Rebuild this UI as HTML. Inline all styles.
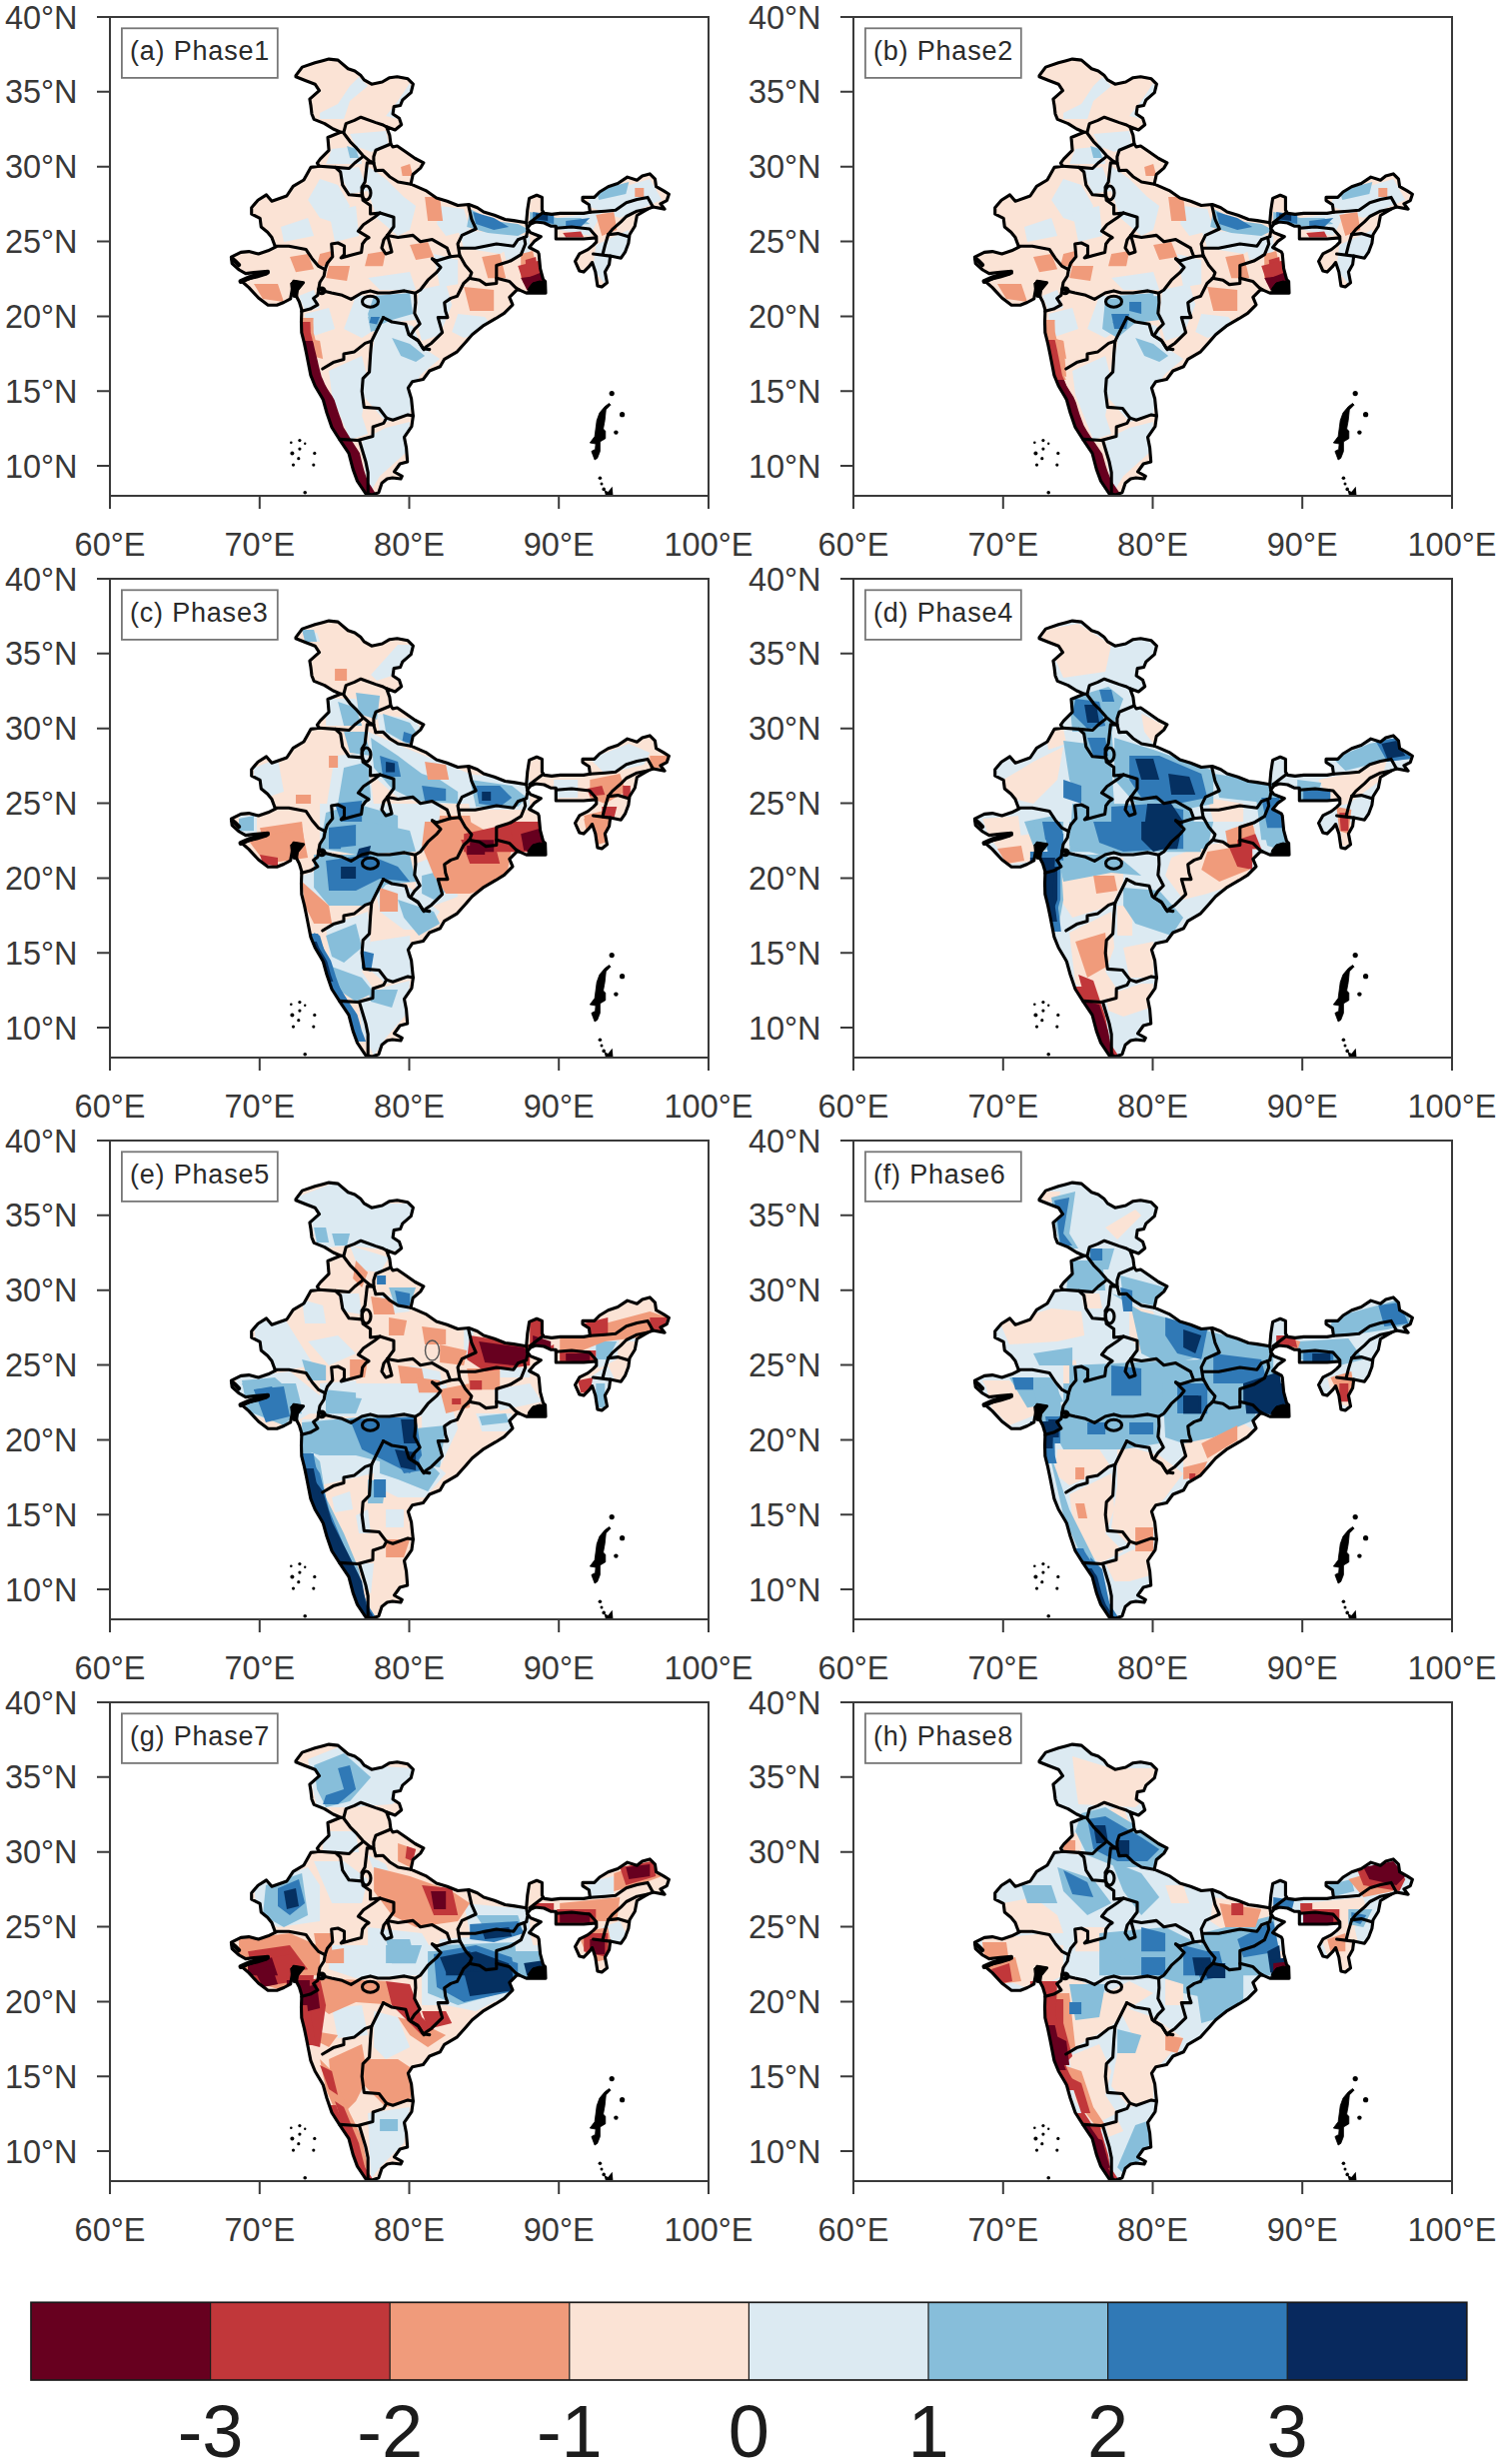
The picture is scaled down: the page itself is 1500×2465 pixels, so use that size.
<!DOCTYPE html><html><head><meta charset="utf-8"><style>html,body{margin:0;padding:0;background:#fff;width:1500px;height:2465px;overflow:hidden}svg{position:absolute;left:0;top:0}text{font-family:"Liberation Sans",sans-serif}</style></head><body>
<svg width="1500" height="2465" viewBox="0 0 1500 2465">
<defs>
<path id="india" d="M296.0,75.6 L302.4,67.1 L315.2,62.8 L322.0,61.0 L329.1,59.1 L338.2,60.1 L348.3,68.7 L355.0,71.0 L361.1,75.6 L364.3,79.9 L371.8,84.2 L382.5,82.0 L389.9,77.7 L397.4,76.7 L408.1,78.8 L413.4,84.2 L411.3,92.7 L402.7,100.2 L400.6,105.5 L394.2,106.6 L393.1,114.0 L399.5,118.3 L401.7,124.7 L395.3,130.0 L386.7,126.8 L389.9,135.4 L391.0,144.0 L393.0,147.0 L397.4,146.0 L404.7,151.0 L415.4,158.5 L423.9,162.8 L420.7,168.1 L413.2,174.5 L411.1,184.2 L426.0,190.6 L436.7,198.0 L447.4,201.2 L458.1,205.5 L469.1,204.5 L477.6,207.7 L484.0,212.0 L494.7,215.2 L505.4,219.5 L513.9,220.6 L526.7,222.7 L527.8,209.9 L529.6,198.4 L537.1,195.2 L542.4,197.4 L542.4,210.2 L544.5,213.4 L552.0,214.4 L560.6,213.4 L584.0,213.4 L590.4,212.3 L589.4,204.8 L583.0,200.6 L583.0,197.4 L594.7,197.4 L600.0,192.0 L608.6,186.7 L618.2,183.5 L627.8,177.1 L637.4,180.3 L642.7,176.0 L650.2,173.9 L655.5,179.2 L656.6,186.7 L664.1,190.9 L669.4,194.2 L667.3,200.6 L660.9,203.8 L665.1,209.1 L653.4,207.0 L648.1,209.1 L637.4,215.5 L635.3,226.2 L630.0,234.7 L628.9,243.2 L625.7,251.8 L621.4,258.2 L610.7,256.1 L609.6,264.6 L605.4,272.1 L607.5,282.7 L602.2,287.0 L597.9,285.9 L595.8,272.1 L592.6,262.5 L589.4,266.7 L584.0,272.1 L579.8,271.0 L575.5,261.4 L579.8,253.9 L588.3,249.6 L593.6,245.4 L596.8,242.2 L596.8,237.9 L584.0,239.0 L556.3,239.0 L556.3,226.2 L551.0,226.2 L544.5,223.0 L536.0,222.0 L531.0,224.0 L527.5,228.3 L530.7,232.6 L536.0,234.7 L541.3,236.8 L535.0,241.1 L529.6,247.5 L538.1,251.8 L539.2,253.9 L540.6,268.6 L543.5,279.5 L545.6,281.6 L546.0,293.1 L526.7,293.1 L519.3,289.9 L517.3,289.9 L509.8,297.4 L513.0,304.8 L504.5,313.4 L495.9,318.7 L483.1,326.2 L472.5,334.7 L466.0,342.2 L457.5,351.8 L444.7,359.3 L440.4,366.7 L429.8,371.0 L423.4,379.5 L412.7,381.7 L408.4,388.1 L411.6,398.7 L412.7,409.4 L413.4,416.0 L411.9,426.7 L404.5,437.4 L406.6,448.0 L407.7,461.9 L400.2,464.0 L394.5,472.0 L402.3,476.3 L401.0,479.0 L392.7,478.0 L387.4,479.0 L382.1,483.2 L378.9,492.8 L372.5,495.0 L366.0,493.9 L357.5,481.1 L353.2,469.4 L349.0,453.4 L340.4,440.6 L332.0,427.5 L327.0,413.0 L323.4,400.0 L321.6,396.7 L315.2,386.0 L310.9,375.4 L308.8,364.7 L306.7,354.0 L304.5,343.4 L301.8,332.7 L301.5,322.0 L301.9,310.0 L299.5,302.0 L297.0,297.3 L295.5,292.5 L303.5,282.8 L293.9,281.2 L290.7,298.9 L284.0,302.5 L277.0,305.3 L268.2,305.3 L258.6,298.0 L249.0,287.6 L242.6,282.0 L247.4,279.2 L257.0,277.0 L266.6,274.0 L268.2,271.3 L257.0,272.3 L245.8,273.6 L239.4,270.0 L232.2,263.6 L231.4,257.2 L241.0,252.4 L249.0,251.6 L258.6,254.0 L268.2,250.8 L276.2,246.8 L275.2,246.2 L272.0,237.6 L267.7,232.3 L261.3,227.0 L260.2,218.4 L251.7,214.2 L251.7,207.7 L258.1,200.3 L266.6,194.9 L272.0,201.3 L286.9,196.0 L293.3,186.4 L304.0,180.0 L311.0,167.4 L319.5,166.3 L317.4,163.1 L320.6,158.9 L329.1,150.3 L328.0,137.5 L340.8,132.2 L333.4,129.0 L324.8,123.6 L314.2,119.4 L312.0,114.0 L311.0,105.5 L309.9,99.1 L319.5,90.6 L315.2,84.2 L306.7,81.0 L296.0,76.7Z"/>
<clipPath id="clip"><use href="#india"/></clipPath>
<g id="borders" fill="none" stroke="#000" stroke-width="3.1" stroke-linejoin="round" stroke-linecap="round">
<use href="#india"/>
<polyline points="340.8,132.2 344.0,132.2 346.2,123.6 354.7,120.4 361.1,117.2 376.0,122.6 382.5,124.7 386.7,126.8"/>
<polyline points="344.0,133.2 350.4,141.8 356.8,148.2 363.2,155.6 369.6,161.0 373.9,163.1"/>
<polyline points="363.2,156.6 355.0,163.0 349.4,168.5 335.5,167.4 319.5,166.3"/>
<polyline points="391.0,144.0 376.0,150.3 373.9,156.7 373.9,163.1 376.0,170.6"/>
<polyline points="376.0,170.6 383.4,170.3 389.8,176.7 398.3,182.0 411.1,184.2"/>
<polyline points="373.9,163.1 367.4,162.8 365.2,182.0 362.0,187.4 363.1,200.2 370.6,205.5 370.6,214.0 380.2,213.0 394.0,217.2 394.0,226.8 387.6,235.4"/>
<polyline points="335.5,167.4 340.7,172.0 342.8,185.2 349.2,194.8 362.0,195.9"/>
<polyline points="325.3,269.6 327.5,263.2 332.8,256.8 331.7,244.0 338.1,243.0 344.5,246.2 344.5,254.7 341.3,257.9 353.1,254.7 361.6,252.6 362.7,244.0 365.9,239.8 369.1,237.6 358.4,231.2 363.7,224.8 374.4,217.4 380.2,213.0"/>
<polyline points="275.2,246.2 289.0,246.2 306.1,249.4 312.5,259.0 318.9,266.4 325.3,269.6"/>
<polyline points="325.3,269.6 324.2,276.0 320.0,282.5 318.9,288.9 323.2,291.0"/>
<polyline points="318.9,288.9 317.9,295.3 313.6,298.5 317.9,304.9 310.4,309.1 301.8,311.3"/>
<polyline points="323.2,291.0 331.7,293.1 342.4,295.3 351.3,299.4 362.0,293.0 370.6,290.9 378.0,293.0 389.8,293.0 404.7,290.9 415.5,293.2"/>
<polyline points="387.6,235.4 398.3,237.5 413.2,235.4 420.7,241.8 432.5,239.6 447.4,248.2 450.6,256.7 436.7,261.0 432.5,258.9"/>
<polyline points="387.6,235.4 384.0,240.0 382.0,248.0 386.0,254.0 392.0,252.0 390.0,244.0 387.6,235.4"/>
<polyline points="432.5,258.9 441.0,267.4 436.7,272.7 428.2,280.2 420.7,290.0 415.5,293.2 415.9,302.7 414.8,313.4 420.2,324.0 414.8,329.4 410.6,335.8 418.0,340.0 423.4,348.6 429.8,349.6"/>
<polyline points="425.5,347.5 431.9,343.2 442.6,332.6 438.3,317.6 447.9,317.6 445.8,311.2 444.7,302.7 451.1,298.4 457.5,296.3 463.9,283.5 470.0,278.0 471.9,272.7 465.5,265.3 460.2,255.7 450.6,256.7"/>
<polyline points="469.1,278.2 479.8,280.3 486.2,284.6 496.8,283.5 496.8,278.2 509.6,281.4 516.1,287.8 519.3,289.9"/>
<polyline points="468.7,205.5 471.9,219.4 476.2,229.0 462.3,235.4 458.1,243.9 460.2,256.7"/>
<polyline points="460.2,248.2 475.5,248.3 496.8,244.0 513.9,246.2 518.2,239.8 526.7,236.6"/>
<polyline points="526.7,222.7 528.0,230.0 526.7,236.6"/>
<polyline points="524.6,237.6 525.7,244.0 521.4,254.7 510.7,261.1 496.8,265.4 496.8,278.2"/>
<polyline points="322.7,369.0 333.4,362.6 344.0,359.4 344.0,354.0 354.7,351.9 365.4,343.4 371.8,341.2 376.0,332.7 383.5,317.7"/>
<polyline points="383.5,317.7 392.1,322.0 405.9,324.2 409.1,334.8 418.7,341.2 424.1,349.8"/>
<polyline points="371.8,341.2 370.7,354.0 369.6,372.2 363.2,378.6 362.2,391.4 364.3,407.4 379.3,408.5 386.7,418.1"/>
<polyline points="386.7,418.1 393.1,420.2 408.1,414.9 413.4,416.0"/>
<polyline points="339.8,439.4 358.0,440.5 373.0,436.5 373.2,427.0 383.9,423.4 386.7,418.1"/>
<polyline points="359.6,440.6 362.8,451.2 366.0,461.9 368.2,472.6 368.2,494.0"/>
<polyline points="590.4,212.3 605.4,211.2 616.0,210.2 626.7,202.7 637.4,199.5 648.1,197.4 653.4,207.0"/>
<polyline points="648.1,209.1 637.4,211.2 626.7,216.5 621.4,221.9 612.8,229.4 608.6,234.7"/>
<polyline points="608.6,234.7 618.2,233.6 628.9,236.8"/>
<polyline points="608.6,234.7 605.4,245.4 603.2,254.0"/>
<polyline points="593.6,254.0 610.7,256.1"/>
<polyline points="556.3,228.3 572.0,227.0 590.0,229.0 596.8,236.8"/>
<polyline points="530.0,222.7 542.7,213.0"/>
<polygon points="529.0,288.0 533.0,283.0 540.0,281.0 545.0,282.0 546.0,293.1 528.0,293.1" fill="#000" stroke-width="1"/>
<polygon points="291.0,283.0 294.0,280.5 304.0,282.5 298.5,290.0 297.5,298.0 293.0,297.0 291.5,290.0" fill="#000" stroke-width="1"/>
<polyline points="241.0,281.5 250.0,277.5 258.0,275.0 267.5,272.5" stroke-width="4.8"/>
<polyline points="232.5,259.0 236.0,262.0 239.0,265.0" stroke-width="4.5"/>
<ellipse cx="366.5" cy="193" rx="4.5" ry="7"/>
<ellipse cx="370.5" cy="301.7" rx="8" ry="5.5"/>
<ellipse cx="321.9" cy="290.8" rx="3.2" ry="2.8"/>
</g>
<g id="islands" fill="#000"><polygon points="609.5,403.5 611.1,405.1 606.3,409.9 605.2,420.6 603.6,429.1 605.8,431.2 605.8,438.7 600.4,441.9 600.4,451.5 597.7,458.4 595.1,460.0 591.9,451.5 595.6,449.4 596.1,444.0 590.3,443.0 595.1,436.6 597.2,420.6 599.9,413.1 605.2,406.7" stroke="#000" stroke-width="0.8"/><polygon points="612.7,486.7 613.5,496.0 606.0,496.0 604.5,490.0 608.4,492.0"/>
<circle cx="612.2" cy="393.6" r="2.6"/>
<circle cx="622.6" cy="414.7" r="2.6"/>
<circle cx="616.4" cy="432.6" r="2.2"/>
<circle cx="600.4" cy="478.2" r="1.8"/>
<circle cx="602" cy="484" r="1.5"/>
<circle cx="604.2" cy="489.4" r="1.8"/>
<circle cx="291.3" cy="442.7" r="1.3"/>
<circle cx="299.9" cy="440.6" r="1.6"/>
<circle cx="305.2" cy="443.8" r="1.2"/>
<circle cx="299.9" cy="449.1" r="1.6"/>
<circle cx="292.4" cy="453.4" r="2"/>
<circle cx="298.8" cy="458.7" r="1.6"/>
<circle cx="314.8" cy="453.4" r="1.6"/>
<circle cx="293.5" cy="465.1" r="1.6"/>
<circle cx="313.8" cy="465.1" r="1.6"/>
<circle cx="305.2" cy="492.8" r="1.8"/>
</g>
</defs>
<g transform="translate(0.0,0.0)">
<use href="#india" fill="#fbe3d5"/>
<g clip-path="url(#clip)">
<path d="M359.1,77.0 L368.1,86.0 L350.1,101.0 L344.1,119.0 L320.1,119.0 L320.1,113.0 L338.1,104.0 L350.1,86.0Z" fill="#dceaf2"/>
<path d="M410.1,83.0 L398.1,101.0 L386.1,116.0 L398.1,119.0 L407.1,110.0 L413.1,92.0Z" fill="#dceaf2"/>
<path d="M350.1,134.1 L386.1,131.1 L389.1,146.1 L371.1,152.1 L356.1,146.1Z" fill="#dceaf2"/>
<path d="M332.1,149.1 L359.1,146.1 L362.1,164.1 L326.1,164.1Z" fill="#dceaf2"/>
<path d="M338.1,170.1 L359.1,167.1 L368.1,191.1 L350.1,194.1Z" fill="#dceaf2"/>
<path d="M365.1,164.1 L386.1,179.1 L404.1,197.1 L416.1,206.1 L410.1,230.1 L398.1,236.1 L377.1,218.1 L368.1,191.1Z" fill="#dceaf2"/>
<path d="M440.1,206.1 L464.2,209.1 L470.2,230.1 L446.2,236.1 L437.1,224.1Z" fill="#dceaf2"/>
<path d="M281.0,227.1 L308.1,218.1 L314.1,236.1 L284.0,242.1Z" fill="#dceaf2"/>
<path d="M320.1,179.1 L338.1,185.1 L350.1,206.1 L338.1,224.1 L320.1,218.1 L308.1,200.1Z" fill="#dceaf2"/>
<path d="M329.1,212.1 L356.1,206.1 L359.1,236.1 L335.1,242.1Z" fill="#dceaf2"/>
<path d="M458.2,230.1 L500.2,233.1 L521.2,242.1 L500.2,254.1 L464.2,248.1Z" fill="#dceaf2"/>
<path d="M434.1,254.1 L458.2,260.1 L458.2,284.2 L440.1,287.2Z" fill="#dceaf2"/>
<path d="M557.2,218.1 L602.3,212.1 L590.3,236.1 L560.2,230.1Z" fill="#dceaf2"/>
<path d="M590.3,197.1 L650.3,179.1 L662.3,200.1 L620.3,218.1 L587.3,206.1Z" fill="#dceaf2"/>
<path d="M596.3,245.1 L629.3,230.1 L626.3,254.1 L605.3,284.2 L593.3,269.2Z" fill="#dceaf2"/>
<path d="M500.2,233.1 L530.2,236.1 L530.2,254.1 L506.2,260.1Z" fill="#dceaf2"/>
<path d="M356.1,296.0 L413.1,293.0 L416.1,320.0 L386.1,323.0 L362.1,338.1 L344.1,329.0Z" fill="#dceaf2"/>
<path d="M305.1,314.0 L329.1,308.0 L335.1,329.0 L308.1,338.1Z" fill="#dceaf2"/>
<path d="M374.1,320.0 L386.1,320.0 L413.1,326.0 L422.1,347.1 L440.1,359.1 L422.1,374.1 L413.1,386.1 L410.1,416.1 L386.1,422.1 L365.1,398.1 L368.1,368.1 L374.1,344.1Z" fill="#dceaf2"/>
<path d="M329.1,371.1 L362.1,356.1 L368.1,380.1 L362.1,416.1 L368.1,434.1 L350.1,440.1 L332.1,395.1Z" fill="#dceaf2"/>
<path d="M362.1,440.1 L386.1,428.1 L410.1,422.1 L407.1,452.1 L380.1,476.2 L371.1,491.2 L365.1,470.1Z" fill="#dceaf2"/>
<path d="M419.1,290.0 L446.2,284.0 L452.2,305.0 L440.1,335.1 L422.1,341.1 L416.1,320.0Z" fill="#dceaf2"/>
<path d="M458.2,314.0 L485.2,317.0 L494.2,329.0 L464.2,338.1 L452.2,332.1Z" fill="#dceaf2"/>
<path d="M299.0,296.0 L314.1,290.0 L320.1,308.0 L305.1,311.0Z" fill="#dceaf2"/>
<path d="M368.1,278.0 L410.1,272.0 L416.1,290.0 L380.1,290.0Z" fill="#dceaf2"/>
<path d="M470.2,209.1 L494.2,221.1 L518.2,224.1 L530.2,230.1 L518.2,236.1 L488.2,233.1 L467.2,227.1Z" fill="#87beda"/>
<path d="M347.1,146.1 L356.1,149.1 L359.1,158.1 L350.1,158.1Z" fill="#87beda"/>
<path d="M530.2,212.1 L557.2,218.1 L581.2,218.1 L590.3,224.1 L557.2,227.1 L530.2,224.1Z" fill="#87beda"/>
<path d="M596.3,191.1 L629.3,182.1 L626.3,194.1 L599.3,200.1Z" fill="#87beda"/>
<path d="M374.1,296.0 L410.1,293.0 L413.1,314.0 L392.1,320.0 L371.1,329.0 L368.1,314.0Z" fill="#87beda"/>
<path d="M392.1,338.1 L410.1,344.1 L425.1,356.1 L416.1,362.1 L401.1,356.1Z" fill="#87beda"/>
<path d="M368.1,317.0 L380.1,317.0 L380.1,329.0 L371.1,332.1Z" fill="#87beda"/>
<path d="M425.1,197.1 L440.1,197.1 L443.1,221.1 L428.1,221.1Z" fill="#f09b7b"/>
<path d="M401.1,167.1 L410.1,164.1 L413.1,176.1 L402.6,176.1Z" fill="#f09b7b"/>
<path d="M596.3,215.1 L614.3,212.1 L617.3,230.1 L602.3,236.1Z" fill="#f09b7b"/>
<path d="M410.1,245.1 L428.1,242.1 L434.1,257.1 L416.1,260.1Z" fill="#f09b7b"/>
<path d="M368.1,254.1 L386.1,251.1 L383.1,266.2 L365.1,266.2Z" fill="#f09b7b"/>
<path d="M320.1,254.1 L332.1,251.1 L329.1,266.2 L317.1,266.2Z" fill="#f09b7b"/>
<path d="M290.0,257.1 L308.1,254.1 L314.1,269.2 L296.0,272.2Z" fill="#f09b7b"/>
<path d="M521.2,254.1 L533.2,251.1 L539.2,281.2 L521.2,278.2Z" fill="#f09b7b"/>
<path d="M482.2,257.1 L500.2,254.1 L506.2,278.2 L488.2,278.2Z" fill="#f09b7b"/>
<path d="M635.3,188.1 L644.3,188.1 L644.3,197.1 L635.3,197.1Z" fill="#f09b7b"/>
<path d="M464.2,287.0 L494.2,290.0 L494.2,311.0 L470.2,311.0Z" fill="#f09b7b"/>
<path d="M305.1,338.1 L320.1,341.1 L323.1,359.1 L311.1,356.1Z" fill="#f09b7b"/>
<path d="M254.0,284.0 L278.0,284.0 L284.0,302.0 L263.0,299.0Z" fill="#f09b7b"/>
<path d="M329.1,266.0 L350.1,266.0 L347.1,281.0 L326.1,278.0Z" fill="#f09b7b"/>
<path d="M286.6,318.0 L286.6,319.4 L286.5,320.7 L286.5,322.1 L286.5,323.4 L286.6,324.8 L286.6,326.1 L286.7,327.4 L286.7,328.8 L286.7,330.1 L286.8,331.5 L286.8,332.9 L287.2,334.2 L287.5,335.6 L287.9,336.9 L288.2,338.2 L288.5,339.6 L288.9,340.9 L289.2,342.3 L289.6,343.6 L289.8,345.0 L316.8,345.0 L316.6,343.6 L316.2,342.3 L315.9,340.9 L315.5,339.6 L315.2,338.2 L314.9,336.9 L314.5,335.6 L314.2,334.2 L313.8,332.9 L313.8,331.5 L313.7,330.1 L313.7,328.8 L313.7,327.4 L313.6,326.1 L313.6,324.8 L313.5,323.4 L313.5,322.1 L313.5,320.7 L313.6,319.4 L313.6,318.0Z" fill="#f09b7b"/>
<path d="M473.2,212.1 L494.2,218.1 L509.2,227.1 L494.2,230.1 L476.2,224.1Z" fill="#3079b6"/>
<path d="M533.2,212.1 L554.2,215.1 L554.2,224.1 L533.2,221.1Z" fill="#3079b6"/>
<path d="M566.2,221.1 L590.3,218.1 L581.2,227.1 L566.2,227.1Z" fill="#3079b6"/>
<path d="M371.1,317.0 L380.1,317.0 L377.1,324.5 L369.6,323.0Z" fill="#3079b6"/>
<path d="M525.7,260.1 L536.2,257.1 L539.2,281.2 L527.2,278.2Z" fill="#c1373a"/>
<path d="M563.2,233.1 L581.2,231.6 L584.2,237.6 L566.2,237.6Z" fill="#c1373a"/>
<path d="M518.2,266.0 L542.2,260.0 L542.2,278.0 L524.2,284.0Z" fill="#c1373a"/>
<path d="M286.5,322.0 L286.5,323.1 L286.6,324.3 L286.6,325.4 L286.6,326.6 L286.7,327.8 L286.7,328.9 L286.7,330.1 L286.8,331.2 L286.8,332.4 L287.0,333.5 L287.3,334.6 L287.6,335.8 L287.9,336.9 L288.2,338.1 L288.5,339.2 L288.7,340.4 L289.0,341.6 L289.3,342.7 L289.6,343.9 L289.8,345.0 L313.8,345.0 L313.6,343.9 L313.3,342.7 L313.0,341.6 L312.7,340.4 L312.5,339.2 L312.2,338.1 L311.9,336.9 L311.6,335.8 L311.3,334.6 L311.0,333.5 L310.8,332.4 L310.8,331.2 L310.7,330.1 L310.7,328.9 L310.7,327.8 L310.6,326.6 L310.6,325.4 L310.6,324.3 L310.5,323.1 L310.5,322.0Z" fill="#c1373a"/>
<path d="M536.2,213.6 L548.2,214.5 L548.2,221.1 L536.2,219.6Z" fill="#053061"/>
<path d="M527.2,278.2 L542.2,272.2 L543.7,288.7 L527.2,288.7Z" fill="#67001f"/>
<path d="M521.2,278.0 L545.2,275.0 L545.2,293.0 L527.2,290.0Z" fill="#67001f"/>
<path d="M288.9,341.0 L289.8,344.9 L290.6,348.9 L291.5,352.9 L292.2,356.8 L293.0,360.8 L293.8,364.7 L294.6,368.6 L295.4,372.6 L296.4,376.6 L298.0,380.5 L299.6,384.4 L301.6,388.4 L304.0,392.4 L306.4,396.3 L308.5,400.2 L309.6,404.2 L310.7,408.1 L311.8,412.1 L313.1,416.1 L314.4,420.0 L341.4,420.0 L339.9,416.1 L338.5,412.1 L337.2,408.1 L336.0,404.2 L334.7,400.2 L332.5,396.3 L329.9,392.4 L327.4,388.4 L325.2,384.4 L323.5,380.5 L321.7,376.6 L320.6,372.6 L319.6,368.6 L318.7,364.7 L317.8,360.8 L316.8,356.8 L315.9,352.9 L314.9,348.9 L314.0,344.9 L312.9,341.0Z" fill="#67001f"/>
<path d="M314.4,420.0 L315.7,423.7 L317.0,427.4 L319.3,431.1 L321.7,434.8 L324.1,438.5 L326.5,442.2 L329.0,445.9 L331.4,449.6 L333.9,453.3 L334.9,457.0 L335.9,460.7 L336.9,464.4 L337.9,468.1 L339.1,471.8 L340.4,475.5 L341.8,479.2 L343.7,482.9 L346.2,486.6 L348.6,490.3 L351.0,494.0 L376.0,494.0 L373.7,490.3 L371.4,486.6 L369.0,482.9 L367.2,479.2 L365.9,475.5 L364.7,471.8 L363.6,468.1 L362.7,464.4 L361.8,460.7 L360.9,457.0 L360.0,453.3 L357.6,449.6 L355.3,445.9 L352.9,442.2 L350.6,438.5 L348.3,434.8 L346.0,431.1 L343.8,427.4 L342.6,423.7 L341.4,420.0Z" fill="#67001f"/>
</g>
<use href="#borders"/><use href="#islands"/>
<rect x="110.0" y="17.0" width="599" height="479.0" fill="none" stroke="#3a3a3a" stroke-width="2"/>
<path d="M97.0,17.0H110.0 M97.0,91.8H110.0 M97.0,166.7H110.0 M97.0,241.5H110.0 M97.0,316.4H110.0 M97.0,391.2H110.0 M97.0,466.1H110.0 M110.0,496.0V509.0 M259.8,496.0V509.0 M409.5,496.0V509.0 M559.2,496.0V509.0 M709.0,496.0V509.0" stroke="#3a3a3a" stroke-width="2" fill="none"/>
<g font-size="32.5" fill="#383838"><text x="77.5" y="28.6" text-anchor="end">40°N</text><text x="77.5" y="103.4" text-anchor="end">35°N</text><text x="77.5" y="178.3" text-anchor="end">30°N</text><text x="77.5" y="253.1" text-anchor="end">25°N</text><text x="77.5" y="328.0" text-anchor="end">20°N</text><text x="77.5" y="402.8" text-anchor="end">15°N</text><text x="77.5" y="477.7" text-anchor="end">10°N</text><text x="110.0" y="556" text-anchor="middle">60°E</text><text x="259.8" y="556" text-anchor="middle">70°E</text><text x="409.5" y="556" text-anchor="middle">80°E</text><text x="559.2" y="556" text-anchor="middle">90°E</text><text x="709.0" y="556" text-anchor="middle">100°E</text></g>
<rect x="121.9" y="28.3" width="155.9" height="49.6" fill="#fff" stroke="#777" stroke-width="1.8"/>
<text x="130" y="60.2" font-size="27" letter-spacing="0.8" fill="#2a2a2a">(a) Phase1</text>
</g>
<g transform="translate(744.0,0.0)">
<use href="#india" fill="#fbe3d5"/>
<g clip-path="url(#clip)">
<path d="M359.1,77.0 L368.1,86.0 L350.1,101.0 L344.1,119.0 L320.1,119.0 L320.1,113.0 L338.1,104.0 L350.1,86.0Z" fill="#dceaf2"/>
<path d="M410.1,83.0 L398.1,101.0 L386.1,116.0 L398.1,119.0 L407.1,110.0 L413.1,92.0Z" fill="#dceaf2"/>
<path d="M350.1,134.1 L386.1,131.1 L389.1,146.1 L371.1,152.1 L356.1,146.1Z" fill="#dceaf2"/>
<path d="M332.1,149.1 L359.1,146.1 L362.1,164.1 L326.1,164.1Z" fill="#dceaf2"/>
<path d="M338.1,170.1 L359.1,167.1 L368.1,191.1 L350.1,194.1Z" fill="#dceaf2"/>
<path d="M365.1,164.1 L386.1,179.1 L404.1,197.1 L416.1,206.1 L410.1,230.1 L398.1,236.1 L377.1,218.1 L368.1,191.1Z" fill="#dceaf2"/>
<path d="M440.1,206.1 L464.2,209.1 L470.2,230.1 L446.2,236.1 L437.1,224.1Z" fill="#dceaf2"/>
<path d="M281.0,227.1 L308.1,218.1 L314.1,236.1 L284.0,242.1Z" fill="#dceaf2"/>
<path d="M320.1,179.1 L338.1,185.1 L350.1,206.1 L338.1,224.1 L320.1,218.1 L308.1,200.1Z" fill="#dceaf2"/>
<path d="M329.1,212.1 L356.1,206.1 L359.1,236.1 L335.1,242.1Z" fill="#dceaf2"/>
<path d="M458.2,230.1 L500.2,233.1 L521.2,242.1 L500.2,254.1 L464.2,248.1Z" fill="#dceaf2"/>
<path d="M434.1,254.1 L458.2,260.1 L458.2,284.2 L440.1,287.2Z" fill="#dceaf2"/>
<path d="M557.2,218.1 L602.3,212.1 L590.3,236.1 L560.2,230.1Z" fill="#dceaf2"/>
<path d="M590.3,197.1 L650.3,179.1 L662.3,200.1 L620.3,218.1 L587.3,206.1Z" fill="#dceaf2"/>
<path d="M596.3,245.1 L629.3,230.1 L626.3,254.1 L605.3,284.2 L593.3,269.2Z" fill="#dceaf2"/>
<path d="M500.2,233.1 L530.2,236.1 L530.2,254.1 L506.2,260.1Z" fill="#dceaf2"/>
<path d="M356.1,296.0 L413.1,293.0 L416.1,320.0 L386.1,323.0 L362.1,338.1 L344.1,329.0Z" fill="#dceaf2"/>
<path d="M305.1,314.0 L329.1,308.0 L335.1,329.0 L308.1,338.1Z" fill="#dceaf2"/>
<path d="M374.1,320.0 L386.1,320.0 L413.1,326.0 L422.1,347.1 L440.1,359.1 L422.1,374.1 L413.1,386.1 L410.1,416.1 L386.1,422.1 L365.1,398.1 L368.1,368.1 L374.1,344.1Z" fill="#dceaf2"/>
<path d="M329.1,371.1 L362.1,356.1 L368.1,380.1 L362.1,416.1 L368.1,434.1 L350.1,440.1 L332.1,395.1Z" fill="#dceaf2"/>
<path d="M362.1,440.1 L386.1,428.1 L410.1,422.1 L407.1,452.1 L380.1,476.2 L371.1,491.2 L365.1,470.1Z" fill="#dceaf2"/>
<path d="M419.1,290.0 L446.2,284.0 L452.2,305.0 L440.1,335.1 L422.1,341.1 L416.1,320.0Z" fill="#dceaf2"/>
<path d="M458.2,314.0 L485.2,317.0 L494.2,329.0 L464.2,338.1 L452.2,332.1Z" fill="#dceaf2"/>
<path d="M299.0,296.0 L314.1,290.0 L320.1,308.0 L305.1,311.0Z" fill="#dceaf2"/>
<path d="M368.1,278.0 L410.1,272.0 L416.1,290.0 L380.1,290.0Z" fill="#dceaf2"/>
<path d="M470.2,209.1 L494.2,221.1 L518.2,224.1 L530.2,230.1 L518.2,236.1 L488.2,233.1 L467.2,227.1Z" fill="#87beda"/>
<path d="M347.1,146.1 L356.1,149.1 L359.1,158.1 L350.1,158.1Z" fill="#87beda"/>
<path d="M530.2,212.1 L557.2,218.1 L581.2,218.1 L590.3,224.1 L557.2,227.1 L530.2,224.1Z" fill="#87beda"/>
<path d="M596.3,191.1 L629.3,182.1 L626.3,194.1 L599.3,200.1Z" fill="#87beda"/>
<path d="M374.1,296.0 L410.1,293.0 L413.1,314.0 L392.1,320.0 L371.1,329.0 L368.1,314.0Z" fill="#87beda"/>
<path d="M392.1,338.1 L410.1,344.1 L425.1,356.1 L416.1,362.1 L401.1,356.1Z" fill="#87beda"/>
<path d="M368.1,317.0 L380.1,317.0 L380.1,329.0 L371.1,332.1Z" fill="#87beda"/>
<path d="M362.1,299.0 L416.1,296.0 L416.1,320.0 L392.1,323.0 L374.1,338.1 L359.1,329.0Z" fill="#87beda"/>
<path d="M425.1,197.1 L440.1,197.1 L443.1,221.1 L428.1,221.1Z" fill="#f09b7b"/>
<path d="M401.1,167.1 L410.1,164.1 L413.1,176.1 L402.6,176.1Z" fill="#f09b7b"/>
<path d="M596.3,215.1 L614.3,212.1 L617.3,230.1 L602.3,236.1Z" fill="#f09b7b"/>
<path d="M410.1,245.1 L428.1,242.1 L434.1,257.1 L416.1,260.1Z" fill="#f09b7b"/>
<path d="M368.1,254.1 L386.1,251.1 L383.1,266.2 L365.1,266.2Z" fill="#f09b7b"/>
<path d="M320.1,254.1 L332.1,251.1 L329.1,266.2 L317.1,266.2Z" fill="#f09b7b"/>
<path d="M290.0,257.1 L308.1,254.1 L314.1,269.2 L296.0,272.2Z" fill="#f09b7b"/>
<path d="M521.2,254.1 L533.2,251.1 L539.2,281.2 L521.2,278.2Z" fill="#f09b7b"/>
<path d="M482.2,257.1 L500.2,254.1 L506.2,278.2 L488.2,278.2Z" fill="#f09b7b"/>
<path d="M635.3,188.1 L644.3,188.1 L644.3,197.1 L635.3,197.1Z" fill="#f09b7b"/>
<path d="M464.2,287.0 L494.2,290.0 L494.2,311.0 L470.2,311.0Z" fill="#f09b7b"/>
<path d="M305.1,338.1 L320.1,341.1 L323.1,359.1 L311.1,356.1Z" fill="#f09b7b"/>
<path d="M254.0,284.0 L278.0,284.0 L284.0,302.0 L263.0,299.0Z" fill="#f09b7b"/>
<path d="M329.1,266.0 L350.1,266.0 L347.1,281.0 L326.1,278.0Z" fill="#f09b7b"/>
<path d="M308.1,338.1 L320.1,341.1 L323.1,377.1 L314.1,374.1Z" fill="#f09b7b"/>
<path d="M286.6,320.0 L286.5,323.0 L286.6,326.0 L286.7,329.0 L286.8,332.0 L287.4,335.0 L288.1,338.0 L288.9,341.0 L289.6,344.0 L290.2,347.0 L290.9,350.0 L291.5,353.0 L292.1,356.0 L292.7,359.0 L293.3,362.0 L293.9,365.0 L294.4,368.0 L295.0,371.0 L295.6,374.0 L296.5,377.0 L297.8,380.0 L322.8,380.0 L321.5,377.0 L320.6,374.0 L320.0,371.0 L319.4,368.0 L318.9,365.0 L318.3,362.0 L317.7,359.0 L317.1,356.0 L316.5,353.0 L315.9,350.0 L315.2,347.0 L314.6,344.0 L313.9,341.0 L313.1,338.0 L312.4,335.0 L311.8,332.0 L311.7,329.0 L311.6,326.0 L311.5,323.0 L311.6,320.0Z" fill="#f09b7b"/>
<path d="M473.2,212.1 L494.2,218.1 L509.2,227.1 L494.2,230.1 L476.2,224.1Z" fill="#3079b6"/>
<path d="M533.2,212.1 L554.2,215.1 L554.2,224.1 L533.2,221.1Z" fill="#3079b6"/>
<path d="M566.2,221.1 L590.3,218.1 L581.2,227.1 L566.2,227.1Z" fill="#3079b6"/>
<path d="M371.1,317.0 L380.1,317.0 L377.1,324.5 L369.6,323.0Z" fill="#3079b6"/>
<path d="M368.1,314.0 L386.1,314.0 L383.1,329.0 L371.1,329.0Z" fill="#3079b6"/>
<path d="M386.1,302.0 L398.1,302.0 L398.1,314.0 L386.1,311.0Z" fill="#3079b6"/>
<path d="M525.7,260.1 L536.2,257.1 L539.2,281.2 L527.2,278.2Z" fill="#c1373a"/>
<path d="M563.2,233.1 L581.2,231.6 L584.2,237.6 L566.2,237.6Z" fill="#c1373a"/>
<path d="M518.2,266.0 L542.2,260.0 L542.2,278.0 L524.2,284.0Z" fill="#c1373a"/>
<path d="M288.6,340.0 L289.3,342.8 L289.9,345.5 L290.5,348.2 L291.1,351.0 L291.6,353.8 L292.2,356.5 L292.7,359.2 L293.3,362.0 L293.8,364.8 L294.3,367.5 L294.9,370.2 L295.4,373.0 L296.0,375.8 L297.2,378.5 L298.3,381.2 L299.4,384.0 L300.6,386.8 L302.3,389.5 L303.9,392.2 L305.6,395.0 L328.6,395.0 L326.9,392.2 L325.3,389.5 L323.6,386.8 L322.4,384.0 L321.3,381.2 L320.2,378.5 L319.0,375.8 L318.4,373.0 L317.9,370.2 L317.3,367.5 L316.8,364.8 L316.3,362.0 L315.7,359.2 L315.2,356.5 L314.6,353.8 L314.1,351.0 L313.5,348.2 L312.9,345.5 L312.3,342.8 L311.6,340.0Z" fill="#c1373a"/>
<path d="M536.2,213.6 L548.2,214.5 L548.2,221.1 L536.2,219.6Z" fill="#053061"/>
<path d="M527.2,278.2 L542.2,272.2 L543.7,288.7 L527.2,288.7Z" fill="#67001f"/>
<path d="M521.2,278.0 L545.2,275.0 L545.2,293.0 L527.2,290.0Z" fill="#67001f"/>
<path d="M297.8,380.0 L300.1,385.7 L303.4,391.4 L306.8,397.1 L309.2,402.8 L310.8,408.5 L312.4,414.2 L314.4,419.9 L316.3,425.6 L319.4,431.3 L323.1,437.0 L326.8,442.7 L330.6,448.4 L334.2,454.1 L335.7,459.8 L337.2,465.5 L338.9,471.2 L341.0,476.9 L343.5,482.6 L347.3,488.3 L351.0,494.0 L377.0,494.0 L373.1,488.3 L369.2,482.6 L366.5,476.9 L364.3,471.2 L362.4,465.5 L360.8,459.8 L359.1,454.1 L355.4,448.4 L351.5,442.7 L347.6,437.0 L343.8,431.3 L340.5,425.6 L338.4,419.9 L336.3,414.2 L334.5,408.5 L332.8,402.8 L330.3,397.1 L326.7,391.4 L323.2,385.7 L320.8,380.0Z" fill="#67001f"/>
</g>
<use href="#borders"/><use href="#islands"/>
<rect x="110.0" y="17.0" width="599" height="479.0" fill="none" stroke="#3a3a3a" stroke-width="2"/>
<path d="M97.0,17.0H110.0 M97.0,91.8H110.0 M97.0,166.7H110.0 M97.0,241.5H110.0 M97.0,316.4H110.0 M97.0,391.2H110.0 M97.0,466.1H110.0 M110.0,496.0V509.0 M259.8,496.0V509.0 M409.5,496.0V509.0 M559.2,496.0V509.0 M709.0,496.0V509.0" stroke="#3a3a3a" stroke-width="2" fill="none"/>
<g font-size="32.5" fill="#383838"><text x="77.5" y="28.6" text-anchor="end">40°N</text><text x="77.5" y="103.4" text-anchor="end">35°N</text><text x="77.5" y="178.3" text-anchor="end">30°N</text><text x="77.5" y="253.1" text-anchor="end">25°N</text><text x="77.5" y="328.0" text-anchor="end">20°N</text><text x="77.5" y="402.8" text-anchor="end">15°N</text><text x="77.5" y="477.7" text-anchor="end">10°N</text><text x="110.0" y="556" text-anchor="middle">60°E</text><text x="259.8" y="556" text-anchor="middle">70°E</text><text x="409.5" y="556" text-anchor="middle">80°E</text><text x="559.2" y="556" text-anchor="middle">90°E</text><text x="709.0" y="556" text-anchor="middle">100°E</text></g>
<rect x="121.9" y="28.3" width="155.9" height="49.6" fill="#fff" stroke="#777" stroke-width="1.8"/>
<text x="130" y="60.2" font-size="27" letter-spacing="0.8" fill="#2a2a2a">(b) Phase2</text>
</g>
<g transform="translate(0.0,562.0)">
<use href="#india" fill="#fbe3d5"/>
<g clip-path="url(#clip)">
<path d="M398.1,83.0 L413.1,83.0 L404.1,110.0 L377.1,119.0 L371.1,113.0Z" fill="#dceaf2"/>
<path d="M254.0,206.1 L278.0,197.1 L284.0,230.1 L266.0,236.1 L254.0,218.1Z" fill="#dceaf2"/>
<path d="M326.1,137.1 L356.1,137.1 L362.1,164.1 L326.1,164.1Z" fill="#dceaf2"/>
<path d="M335.1,194.1 L368.1,191.1 L374.1,245.1 L326.1,248.1Z" fill="#dceaf2"/>
<path d="M377.1,152.1 L416.1,158.1 L422.1,170.1 L407.1,182.1 L380.1,170.1Z" fill="#dceaf2"/>
<path d="M368.1,170.1 L410.1,188.1 L440.1,200.1 L470.2,212.1 L470.2,242.1 L434.1,242.1 L398.1,236.1 L371.1,212.1Z" fill="#dceaf2"/>
<path d="M464.2,212.1 L530.2,218.1 L530.2,248.1 L470.2,248.1Z" fill="#dceaf2"/>
<path d="M320.1,242.1 L440.1,242.1 L440.1,290.2 L320.1,290.2Z" fill="#dceaf2"/>
<path d="M554.2,218.1 L578.2,218.1 L578.2,236.1 L554.2,236.1Z" fill="#dceaf2"/>
<path d="M590.3,197.1 L629.3,182.1 L650.3,191.1 L644.3,203.1 L605.3,212.1Z" fill="#dceaf2"/>
<path d="M239.0,254.1 L257.0,254.1 L257.0,272.2 L239.0,272.2Z" fill="#dceaf2"/>
<path d="M305.1,71.0 L317.1,71.0 L320.1,80.0 L308.1,80.0Z" fill="#dceaf2"/>
<path d="M326.1,365.1 L368.1,350.1 L371.1,386.1 L362.1,410.1 L374.1,428.1 L356.1,440.1 L332.1,416.1Z" fill="#dceaf2"/>
<path d="M371.1,380.1 L410.1,374.1 L413.1,416.1 L386.1,422.1 L365.1,404.1Z" fill="#dceaf2"/>
<path d="M359.1,440.1 L386.1,425.1 L410.1,419.1 L407.1,452.1 L386.1,476.2 L374.1,494.2 L362.1,470.1Z" fill="#dceaf2"/>
<path d="M416.1,302.0 L446.2,290.0 L458.2,335.1 L434.1,344.1 L416.1,338.1Z" fill="#dceaf2"/>
<path d="M302.1,314.0 L320.1,308.0 L326.1,338.1 L308.1,344.1Z" fill="#dceaf2"/>
<path d="M320.1,260.0 L425.1,260.0 L422.1,290.0 L320.1,290.0Z" fill="#dceaf2"/>
<path d="M374.1,320.0 L410.1,326.0 L440.1,350.1 L428.1,368.1 L404.1,368.1 L380.1,350.1Z" fill="#dceaf2"/>
<path d="M356.1,131.1 L380.1,134.1 L377.1,158.1 L359.1,152.1Z" fill="#87beda"/>
<path d="M338.1,140.1 L356.1,146.1 L362.1,164.1 L344.1,164.1Z" fill="#87beda"/>
<path d="M383.1,152.1 L410.1,161.1 L416.1,170.1 L407.1,182.1 L386.1,170.1Z" fill="#87beda"/>
<path d="M344.1,170.1 L365.1,170.1 L371.1,194.1 L350.1,191.1Z" fill="#87beda"/>
<path d="M371.1,176.1 L398.1,194.1 L422.1,212.1 L440.1,218.1 L458.2,230.1 L458.2,242.1 L416.1,239.1 L392.1,227.1 L374.1,206.1Z" fill="#87beda"/>
<path d="M344.1,206.1 L368.1,200.1 L371.1,236.1 L350.1,248.1 L338.1,242.1Z" fill="#87beda"/>
<path d="M470.2,218.1 L512.2,224.1 L527.2,236.1 L518.2,245.1 L476.2,245.1Z" fill="#87beda"/>
<path d="M326.1,251.1 L356.1,242.1 L398.1,254.1 L398.1,278.2 L356.1,287.2 L320.1,287.2Z" fill="#87beda"/>
<path d="M239.0,257.1 L254.0,254.1 L254.0,269.2 L239.0,269.2Z" fill="#87beda"/>
<path d="M302.1,68.0 L314.1,68.0 L317.1,80.0 L305.1,80.0Z" fill="#87beda"/>
<path d="M323.1,266.0 L368.1,260.0 L410.1,269.0 L416.1,290.0 L356.1,293.0 L323.1,287.0Z" fill="#87beda"/>
<path d="M314.1,293.0 L410.1,293.0 L416.1,320.0 L386.1,323.0 L368.1,344.1 L329.1,344.1 L314.1,326.0Z" fill="#87beda"/>
<path d="M398.1,338.1 L434.1,350.1 L440.1,362.1 L419.1,374.1 L404.1,356.1Z" fill="#87beda"/>
<path d="M326.1,374.1 L356.1,362.1 L362.1,386.1 L344.1,401.1 L332.1,395.1Z" fill="#87beda"/>
<path d="M329.1,404.1 L362.1,416.1 L374.1,431.1 L356.1,440.1 L338.1,428.1Z" fill="#87beda"/>
<path d="M368.1,428.1 L398.1,428.1 L392.1,446.1 L371.1,440.1Z" fill="#87beda"/>
<path d="M422.1,314.0 L446.2,308.0 L452.2,326.0 L434.1,338.1 L422.1,332.1Z" fill="#87beda"/>
<path d="M335.1,107.0 L347.1,107.0 L347.1,119.0 L335.1,119.0Z" fill="#f09b7b"/>
<path d="M296.0,233.1 L311.1,233.1 L311.1,242.1 L296.0,242.1Z" fill="#f09b7b"/>
<path d="M329.1,194.1 L338.1,194.1 L338.1,206.1 L329.1,206.1Z" fill="#f09b7b"/>
<path d="M260.0,266.2 L302.1,260.1 L305.1,287.2 L266.0,287.2Z" fill="#f09b7b"/>
<path d="M425.1,200.1 L446.2,203.1 L449.2,218.1 L428.1,218.1Z" fill="#f09b7b"/>
<path d="M440.1,254.1 L470.2,254.1 L476.2,290.2 L434.1,290.2Z" fill="#f09b7b"/>
<path d="M590.3,218.1 L620.3,212.1 L626.3,230.1 L605.3,242.1 L590.3,236.1Z" fill="#f09b7b"/>
<path d="M584.2,257.1 L599.3,257.1 L596.3,272.2 L587.3,272.2Z" fill="#f09b7b"/>
<path d="M650.3,194.1 L668.3,194.1 L665.3,206.1 L650.3,206.1Z" fill="#f09b7b"/>
<path d="M584.2,254.1 L608.3,248.1 L614.3,278.2 L593.3,284.2Z" fill="#f09b7b"/>
<path d="M425.1,260.0 L470.2,260.0 L512.2,284.0 L506.2,320.0 L470.2,332.1 L446.2,332.1 L434.1,314.0 L422.1,284.0Z" fill="#f09b7b"/>
<path d="M302.1,320.0 L329.1,344.1 L332.1,362.1 L314.1,362.1 L305.1,344.1Z" fill="#f09b7b"/>
<path d="M380.1,326.0 L398.1,332.1 L398.1,350.1 L380.1,350.1Z" fill="#f09b7b"/>
<path d="M248.0,278.0 L302.1,266.0 L308.1,296.0 L266.0,302.0Z" fill="#f09b7b"/>
<path d="M380.1,194.1 L398.1,200.1 L401.1,215.1 L383.1,215.1Z" fill="#3079b6"/>
<path d="M422.1,224.1 L446.2,227.1 L446.2,239.1 L425.1,239.1Z" fill="#3079b6"/>
<path d="M476.2,224.1 L500.2,224.1 L512.2,236.1 L500.2,245.1 L479.2,242.1Z" fill="#3079b6"/>
<path d="M335.1,242.1 L362.1,239.1 L362.1,260.1 L341.1,260.1Z" fill="#3079b6"/>
<path d="M404.1,170.1 L413.1,173.1 L410.1,182.1 L402.6,179.1Z" fill="#3079b6"/>
<path d="M329.1,266.2 L341.1,266.2 L341.1,287.2 L329.1,287.2Z" fill="#3079b6"/>
<path d="M326.1,299.0 L368.1,293.0 L398.1,305.0 L410.1,320.0 L380.1,317.0 L356.1,329.0 L329.1,329.0Z" fill="#3079b6"/>
<path d="M329.1,266.0 L356.1,263.0 L356.1,284.0 L329.1,287.0Z" fill="#3079b6"/>
<path d="M314.1,371.1 L320.1,374.1 L329.1,404.1 L341.1,428.1 L356.1,452.1 L362.1,476.2 L356.1,476.2 L338.1,440.1 L323.1,404.1Z" fill="#3079b6"/>
<path d="M362.1,389.1 L374.1,392.1 L371.1,410.1 L362.1,407.1Z" fill="#3079b6"/>
<path d="M295.2,372.0 L296.7,377.4 L298.9,382.8 L301.5,388.2 L304.7,393.6 L307.9,399.0 L309.6,404.4 L311.1,409.8 L312.8,415.2 L314.6,420.6 L316.5,426.0 L319.5,431.4 L323.0,436.8 L326.5,442.2 L330.1,447.6 L333.7,453.0 L335.3,458.4 L336.7,463.8 L338.1,469.2 L340.1,474.6 L342.1,480.0 L366.1,480.0 L364.1,474.6 L362.0,469.2 L360.6,463.8 L359.1,458.4 L357.5,453.0 L353.8,447.6 L350.1,442.2 L346.6,436.8 L343.1,431.4 L340.0,426.0 L338.1,420.6 L336.2,415.2 L334.5,409.8 L332.9,404.4 L331.1,399.0 L327.9,393.6 L324.7,388.2 L322.0,382.8 L319.8,377.4 L318.2,372.0Z" fill="#3079b6"/>
<path d="M464.2,272.2 L518.2,260.1 L542.2,266.2 L542.2,290.2 L464.2,290.2Z" fill="#c1373a"/>
<path d="M587.3,227.1 L602.3,224.1 L605.3,233.1 L590.3,234.6Z" fill="#c1373a"/>
<path d="M602.3,245.1 L617.3,245.1 L614.3,257.1 L602.3,257.1Z" fill="#c1373a"/>
<path d="M623.3,224.1 L630.8,224.1 L630.8,236.1 L623.3,236.1Z" fill="#c1373a"/>
<path d="M461.2,278.0 L494.2,278.0 L500.2,302.0 L470.2,302.0Z" fill="#c1373a"/>
<path d="M509.2,260.0 L542.2,260.0 L542.2,287.0 L515.2,287.0Z" fill="#c1373a"/>
<path d="M260.0,293.0 L278.0,296.0 L278.0,305.0 L263.0,302.0Z" fill="#c1373a"/>
<path d="M386.1,200.1 L395.1,201.6 L395.1,210.6 L386.1,210.6Z" fill="#053061"/>
<path d="M482.2,230.1 L491.2,230.1 L491.2,239.1 L482.2,239.1Z" fill="#053061"/>
<path d="M341.1,305.0 L356.1,305.0 L356.1,317.0 L341.1,317.0Z" fill="#053061"/>
<path d="M359.1,287.0 L371.1,284.0 L368.1,296.0 L356.1,296.0Z" fill="#053061"/>
<path d="M297.8,380.0 L298.6,382.0 L299.4,384.0 L300.2,386.0 L301.4,388.0 L302.6,390.0 L303.8,392.0 L305.0,394.0 L306.2,396.0 L307.3,398.0 L308.4,400.0 L309.0,402.0 L309.5,404.0 L310.1,406.0 L310.6,408.0 L311.2,410.0 L311.7,412.0 L312.3,414.0 L313.0,416.0 L313.7,418.0 L314.4,420.0 L333.4,420.0 L332.7,418.0 L332.0,416.0 L331.3,414.0 L330.7,412.0 L330.2,410.0 L329.6,408.0 L329.1,406.0 L328.5,404.0 L328.0,402.0 L327.4,400.0 L326.3,398.0 L325.2,396.0 L324.0,394.0 L322.8,392.0 L321.6,390.0 L320.4,388.0 L319.2,386.0 L318.4,384.0 L317.6,382.0 L316.8,380.0Z" fill="#053061"/>
<path d="M521.2,272.2 L542.2,266.2 L543.7,288.7 L524.2,288.7Z" fill="#67001f"/>
<path d="M470.2,278.2 L494.2,278.2 L494.2,290.2 L470.2,290.2Z" fill="#67001f"/>
<path d="M524.2,272.0 L545.2,269.0 L545.2,293.0 L527.2,290.0Z" fill="#67001f"/>
<path d="M467.2,284.0 L485.2,284.0 L485.2,293.0 L467.2,293.0Z" fill="#67001f"/>
</g>
<use href="#borders"/><use href="#islands"/>
<rect x="110.0" y="17.0" width="599" height="479.0" fill="none" stroke="#3a3a3a" stroke-width="2"/>
<path d="M97.0,17.0H110.0 M97.0,91.8H110.0 M97.0,166.7H110.0 M97.0,241.5H110.0 M97.0,316.4H110.0 M97.0,391.2H110.0 M97.0,466.1H110.0 M110.0,496.0V509.0 M259.8,496.0V509.0 M409.5,496.0V509.0 M559.2,496.0V509.0 M709.0,496.0V509.0" stroke="#3a3a3a" stroke-width="2" fill="none"/>
<g font-size="32.5" fill="#383838"><text x="77.5" y="28.6" text-anchor="end">40°N</text><text x="77.5" y="103.4" text-anchor="end">35°N</text><text x="77.5" y="178.3" text-anchor="end">30°N</text><text x="77.5" y="253.1" text-anchor="end">25°N</text><text x="77.5" y="328.0" text-anchor="end">20°N</text><text x="77.5" y="402.8" text-anchor="end">15°N</text><text x="77.5" y="477.7" text-anchor="end">10°N</text><text x="110.0" y="556" text-anchor="middle">60°E</text><text x="259.8" y="556" text-anchor="middle">70°E</text><text x="409.5" y="556" text-anchor="middle">80°E</text><text x="559.2" y="556" text-anchor="middle">90°E</text><text x="709.0" y="556" text-anchor="middle">100°E</text></g>
<rect x="121.9" y="28.3" width="155.9" height="49.6" fill="#fff" stroke="#777" stroke-width="1.8"/>
<text x="130" y="60.2" font-size="27" letter-spacing="0.8" fill="#2a2a2a">(c) Phase3</text>
</g>
<g transform="translate(744.0,562.0)">
<use href="#india" fill="#dceaf2"/>
<g clip-path="url(#clip)">
<path d="M299.0,68.0 L335.1,62.0 L368.1,83.0 L362.1,110.0 L320.1,116.0 L311.1,95.0 L299.0,77.0Z" fill="#fbe3d5"/>
<path d="M260.0,218.1 L290.0,200.1 L320.1,185.1 L314.1,218.1 L290.0,242.1 L266.0,236.1Z" fill="#fbe3d5"/>
<path d="M302.1,170.1 L320.1,167.1 L323.1,182.1 L305.1,188.1Z" fill="#fbe3d5"/>
<path d="M398.1,152.1 L422.1,164.1 L410.1,182.1 L401.1,170.1Z" fill="#fbe3d5"/>
<path d="M239.0,257.1 L275.0,254.1 L278.0,278.2 L248.0,281.2Z" fill="#fbe3d5"/>
<path d="M464.2,236.1 L500.2,242.1 L500.2,260.1 L470.2,260.1Z" fill="#fbe3d5"/>
<path d="M575.2,218.1 L605.3,212.1 L644.3,197.1 L638.3,218.1 L605.3,242.1 L590.3,245.1Z" fill="#fbe3d5"/>
<path d="M614.3,188.1 L626.3,182.1 L632.3,194.1 L620.3,197.1Z" fill="#fbe3d5"/>
<path d="M596.3,260.1 L608.3,260.1 L608.3,284.2 L599.3,284.2Z" fill="#fbe3d5"/>
<path d="M248.0,278.0 L290.0,272.0 L296.0,299.0 L266.0,302.0Z" fill="#fbe3d5"/>
<path d="M320.1,302.0 L380.1,296.0 L380.1,320.0 L368.1,344.1 L329.1,356.1 L317.1,338.1Z" fill="#fbe3d5"/>
<path d="M326.1,371.1 L368.1,350.1 L371.1,386.1 L362.1,410.1 L374.1,428.1 L359.1,440.1 L332.1,422.1Z" fill="#fbe3d5"/>
<path d="M374.1,344.1 L389.1,344.1 L389.1,374.1 L374.1,374.1Z" fill="#fbe3d5"/>
<path d="M458.2,284.0 L500.2,278.0 L512.2,296.0 L500.2,320.0 L464.2,332.1 L440.1,338.1 L422.1,314.0 L428.1,296.0Z" fill="#fbe3d5"/>
<path d="M362.1,434.1 L398.1,422.1 L410.1,422.1 L407.1,446.1 L380.1,455.1 L365.1,449.1Z" fill="#fbe3d5"/>
<path d="M380.1,386.1 L410.1,380.1 L410.1,416.1 L386.1,416.1Z" fill="#fbe3d5"/>
<path d="M488.2,266.0 L512.2,266.0 L509.2,284.0 L488.2,284.0Z" fill="#fbe3d5"/>
<path d="M326.1,137.1 L365.1,125.1 L380.1,137.1 L368.1,170.1 L329.1,170.1Z" fill="#87beda"/>
<path d="M338.1,170.1 L368.1,167.1 L371.1,200.1 L350.1,200.1Z" fill="#87beda"/>
<path d="M320.1,179.1 L344.1,182.1 L368.1,200.1 L371.1,245.1 L341.1,245.1 L326.1,218.1Z" fill="#87beda"/>
<path d="M371.1,176.1 L410.1,188.1 L470.2,209.1 L470.2,242.1 L440.1,248.1 L392.1,242.1 L371.1,218.1Z" fill="#87beda"/>
<path d="M329.1,242.1 L446.2,242.1 L458.2,290.2 L326.1,290.2Z" fill="#87beda"/>
<path d="M470.2,212.1 L530.2,221.1 L530.2,242.1 L476.2,236.1Z" fill="#87beda"/>
<path d="M590.3,197.1 L626.3,182.1 L656.3,176.1 L668.3,197.1 L638.3,200.1 L602.3,209.1Z" fill="#87beda"/>
<path d="M554.2,218.1 L578.2,221.1 L572.2,242.1 L554.2,236.1Z" fill="#87beda"/>
<path d="M512.2,230.1 L539.2,230.1 L542.2,278.2 L518.2,278.2Z" fill="#87beda"/>
<path d="M281.0,260.1 L311.1,254.1 L320.1,278.2 L290.0,284.2Z" fill="#87beda"/>
<path d="M326.1,260.0 L470.2,260.0 L464.2,287.0 L356.1,293.0 L326.1,284.0Z" fill="#87beda"/>
<path d="M314.1,293.0 L356.1,293.0 L380.1,299.0 L398.1,314.0 L368.1,311.0 L320.1,320.0Z" fill="#87beda"/>
<path d="M299.0,293.0 L317.1,293.0 L320.1,338.1 L314.1,371.1 L305.1,350.1Z" fill="#87beda"/>
<path d="M380.1,326.0 L416.1,329.0 L440.1,356.1 L428.1,374.1 L392.1,362.1 L380.1,344.1Z" fill="#87beda"/>
<path d="M518.2,260.0 L542.2,260.0 L542.2,290.0 L524.2,284.0Z" fill="#87beda"/>
<path d="M290.0,260.0 L320.1,260.0 L320.1,284.0 L296.0,290.0Z" fill="#87beda"/>
<path d="M482.2,269.2 L509.2,260.1 L515.2,287.2 L485.2,287.2Z" fill="#f09b7b"/>
<path d="M593.3,245.1 L608.3,248.1 L605.3,272.2 L596.3,269.2Z" fill="#f09b7b"/>
<path d="M464.2,290.0 L500.2,284.0 L506.2,308.0 L476.2,320.0 L458.2,308.0Z" fill="#f09b7b"/>
<path d="M350.1,314.0 L371.1,314.0 L374.1,329.0 L353.1,332.1Z" fill="#f09b7b"/>
<path d="M332.1,380.1 L362.1,371.1 L365.1,404.1 L344.1,416.1Z" fill="#f09b7b"/>
<path d="M254.0,287.0 L278.0,284.0 L281.0,299.0 L263.0,302.0Z" fill="#f09b7b"/>
<path d="M332.1,137.1 L356.1,140.1 L362.1,164.1 L344.1,167.1 L329.1,152.1Z" fill="#3079b6"/>
<path d="M356.1,128.1 L368.1,128.1 L371.1,140.1 L359.1,140.1Z" fill="#3079b6"/>
<path d="M386.1,194.1 L416.1,194.1 L458.2,212.1 L464.2,236.1 L434.1,242.1 L398.1,236.1 L386.1,218.1Z" fill="#3079b6"/>
<path d="M368.1,245.1 L410.1,242.1 L440.1,248.1 L440.1,287.2 L398.1,287.2 L368.1,272.2Z" fill="#3079b6"/>
<path d="M344.1,176.1 L362.1,176.1 L365.1,194.1 L350.1,194.1Z" fill="#3079b6"/>
<path d="M632.3,179.1 L656.3,176.1 L668.3,197.1 L644.3,200.1Z" fill="#3079b6"/>
<path d="M560.2,227.1 L587.3,227.1 L587.3,239.1 L560.2,239.1Z" fill="#3079b6"/>
<path d="M518.2,236.1 L536.2,236.1 L539.2,266.2 L524.2,266.2Z" fill="#3079b6"/>
<path d="M320.1,218.1 L338.1,224.1 L338.1,242.1 L320.1,236.1Z" fill="#3079b6"/>
<path d="M299.0,260.1 L317.1,260.1 L320.1,275.2 L302.1,278.2Z" fill="#3079b6"/>
<path d="M350.1,260.0 L440.1,260.0 L434.1,287.0 L380.1,290.0 L356.1,281.0Z" fill="#3079b6"/>
<path d="M300.5,296.0 L317.1,296.0 L317.1,338.1 L311.1,359.1 L302.1,338.1Z" fill="#3079b6"/>
<path d="M302.1,272.0 L320.1,272.0 L320.1,299.0 L305.1,296.0Z" fill="#3079b6"/>
<path d="M286.9,290.0 L286.9,294.0 L286.9,298.0 L286.9,302.0 L286.9,306.0 L286.9,310.0 L286.8,314.0 L286.6,318.0 L286.5,322.0 L286.6,326.0 L286.7,330.0 L287.1,334.0 L288.1,338.0 L289.1,342.0 L290.0,346.0 L290.9,350.0 L291.7,354.0 L292.5,358.0 L293.3,362.0 L294.1,366.0 L294.8,370.0 L317.8,370.0 L317.4,366.0 L316.9,362.0 L316.4,358.0 L315.9,354.0 L315.4,350.0 L314.8,346.0 L314.2,342.0 L313.5,338.0 L312.8,334.0 L312.7,330.0 L312.9,326.0 L313.1,322.0 L313.5,318.0 L314.0,314.0 L314.4,310.0 L314.7,306.0 L315.0,302.0 L315.3,298.0 L315.6,294.0 L315.9,290.0Z" fill="#3079b6"/>
<path d="M596.3,251.1 L605.3,251.1 L605.3,269.2 L597.8,269.2Z" fill="#c1373a"/>
<path d="M494.2,278.2 L512.2,272.2 L518.2,287.2 L494.2,287.2Z" fill="#c1373a"/>
<path d="M485.2,284.0 L509.2,284.0 L509.2,308.0 L494.2,305.0Z" fill="#c1373a"/>
<path d="M335.1,413.1 L350.1,419.1 L362.1,455.1 L368.1,488.2 L359.1,482.2 L344.1,446.1Z" fill="#c1373a"/>
<path d="M316.1,425.0 L317.6,428.5 L319.8,431.9 L322.0,435.4 L324.2,438.8 L326.5,442.2 L328.8,445.7 L331.1,449.1 L333.5,452.6 L334.7,456.0 L335.6,459.5 L336.5,463.0 L337.4,466.4 L338.4,469.8 L339.6,473.3 L340.9,476.8 L342.2,480.2 L344.2,483.7 L346.5,487.1 L348.8,490.5 L351.0,494.0 L375.0,494.0 L372.8,490.5 L370.5,487.1 L368.2,483.7 L366.2,480.2 L364.9,476.8 L363.6,473.3 L362.4,469.8 L361.4,466.4 L360.5,463.0 L359.6,459.5 L358.7,456.0 L357.5,452.6 L355.1,449.1 L352.8,445.7 L350.5,442.2 L348.2,438.8 L346.0,435.4 L343.8,431.9 L341.6,428.5 L340.1,425.0Z" fill="#c1373a"/>
<path d="M392.1,197.1 L410.1,197.1 L416.1,218.1 L398.1,218.1Z" fill="#053061"/>
<path d="M425.1,212.1 L446.2,215.1 L452.2,233.1 L428.1,233.1Z" fill="#053061"/>
<path d="M404.1,242.1 L428.1,242.1 L440.1,260.1 L434.1,287.2 L410.1,287.2 L401.1,266.2Z" fill="#053061"/>
<path d="M638.3,182.1 L653.3,179.1 L662.3,194.1 L644.3,197.1Z" fill="#053061"/>
<path d="M341.1,143.1 L353.1,143.1 L356.1,161.1 L344.1,161.1Z" fill="#053061"/>
<path d="M398.1,260.0 L437.1,260.0 L434.1,284.0 L410.1,290.0 L398.1,278.0Z" fill="#053061"/>
<path d="M302.1,305.0 L314.1,305.0 L314.1,338.1 L309.6,350.1 L303.6,332.1Z" fill="#053061"/>
<path d="M286.9,296.0 L286.9,299.2 L286.9,302.4 L286.9,305.6 L286.9,308.8 L286.8,312.0 L286.7,315.2 L286.6,318.4 L286.5,321.6 L286.6,324.8 L286.7,328.0 L286.8,331.2 L287.2,334.4 L288.0,337.6 L288.8,340.8 L289.6,344.0 L290.3,347.2 L291.0,350.4 L291.6,353.6 L292.2,356.8 L292.9,360.0 L313.9,360.0 L313.4,356.8 L313.0,353.6 L312.6,350.4 L312.1,347.2 L311.6,344.0 L311.0,340.8 L310.4,337.6 L309.8,334.4 L309.6,331.2 L309.7,328.0 L309.8,324.8 L309.9,321.6 L310.2,318.4 L310.5,315.2 L310.8,312.0 L311.1,308.8 L311.3,305.6 L311.5,302.4 L311.7,299.2 L311.9,296.0Z" fill="#053061"/>
<path d="M344.1,440.1 L356.1,443.1 L365.1,470.1 L368.1,491.2 L362.1,488.2 L350.1,458.1Z" fill="#67001f"/>
<path d="M325.0,440.0 L326.8,442.7 L328.6,445.4 L330.4,448.1 L332.3,450.8 L334.0,453.5 L334.7,456.2 L335.4,458.9 L336.2,461.6 L336.9,464.3 L337.6,467.0 L338.3,469.7 L339.3,472.4 L340.3,475.1 L341.3,477.8 L342.3,480.5 L343.9,483.2 L345.7,485.9 L347.5,488.6 L349.3,491.3 L351.0,494.0 L372.0,494.0 L370.3,491.3 L368.5,488.6 L366.7,485.9 L364.9,483.2 L363.3,480.5 L362.3,477.8 L361.3,475.1 L360.3,472.4 L359.3,469.7 L358.6,467.0 L357.9,464.3 L357.2,461.6 L356.4,458.9 L355.7,456.2 L355.0,453.5 L353.3,450.8 L351.4,448.1 L349.6,445.4 L347.8,442.7 L346.0,440.0Z" fill="#67001f"/>
</g>
<use href="#borders"/><use href="#islands"/>
<rect x="110.0" y="17.0" width="599" height="479.0" fill="none" stroke="#3a3a3a" stroke-width="2"/>
<path d="M97.0,17.0H110.0 M97.0,91.8H110.0 M97.0,166.7H110.0 M97.0,241.5H110.0 M97.0,316.4H110.0 M97.0,391.2H110.0 M97.0,466.1H110.0 M110.0,496.0V509.0 M259.8,496.0V509.0 M409.5,496.0V509.0 M559.2,496.0V509.0 M709.0,496.0V509.0" stroke="#3a3a3a" stroke-width="2" fill="none"/>
<g font-size="32.5" fill="#383838"><text x="77.5" y="28.6" text-anchor="end">40°N</text><text x="77.5" y="103.4" text-anchor="end">35°N</text><text x="77.5" y="178.3" text-anchor="end">30°N</text><text x="77.5" y="253.1" text-anchor="end">25°N</text><text x="77.5" y="328.0" text-anchor="end">20°N</text><text x="77.5" y="402.8" text-anchor="end">15°N</text><text x="77.5" y="477.7" text-anchor="end">10°N</text><text x="110.0" y="556" text-anchor="middle">60°E</text><text x="259.8" y="556" text-anchor="middle">70°E</text><text x="409.5" y="556" text-anchor="middle">80°E</text><text x="559.2" y="556" text-anchor="middle">90°E</text><text x="709.0" y="556" text-anchor="middle">100°E</text></g>
<rect x="121.9" y="28.3" width="155.9" height="49.6" fill="#fff" stroke="#777" stroke-width="1.8"/>
<text x="130" y="60.2" font-size="27" letter-spacing="0.8" fill="#2a2a2a">(d) Phase4</text>
</g>
<g transform="translate(0.0,1124.0)">
<use href="#india" fill="#fbe3d5"/>
<g clip-path="url(#clip)">
<path d="M296.0,74.0 L335.1,59.0 L368.1,80.0 L413.1,80.0 L413.1,98.0 L398.1,128.1 L350.1,122.1 L317.1,125.1 L311.1,95.0Z" fill="#dceaf2"/>
<path d="M350.1,122.1 L389.1,134.1 L380.1,149.1 L359.1,146.1Z" fill="#dceaf2"/>
<path d="M338.1,170.1 L359.1,170.1 L362.1,191.1 L344.1,188.1Z" fill="#dceaf2"/>
<path d="M254.0,200.1 L284.0,194.1 L299.0,218.1 L314.1,242.1 L278.0,248.1 L257.0,230.1Z" fill="#dceaf2"/>
<path d="M302.1,176.1 L323.1,182.1 L326.1,200.1 L305.1,200.1Z" fill="#dceaf2"/>
<path d="M308.1,218.1 L338.1,212.1 L356.1,230.1 L329.1,242.1Z" fill="#dceaf2"/>
<path d="M236.0,254.1 L290.0,248.1 L320.1,272.2 L320.1,290.2 L239.0,290.2Z" fill="#dceaf2"/>
<path d="M380.1,170.1 L404.1,176.1 L410.1,188.1 L386.1,191.1Z" fill="#dceaf2"/>
<path d="M320.1,260.1 L356.1,257.1 L362.1,290.2 L320.1,290.2Z" fill="#dceaf2"/>
<path d="M410.1,242.1 L440.1,248.1 L446.2,278.2 L416.1,278.2Z" fill="#dceaf2"/>
<path d="M590.3,212.1 L620.3,212.1 L617.3,236.1 L599.3,245.1 L590.3,230.1Z" fill="#dceaf2"/>
<path d="M590.3,254.1 L608.3,242.1 L617.3,260.1 L605.3,287.2 L593.3,278.2Z" fill="#dceaf2"/>
<path d="M635.3,200.1 L644.3,200.1 L638.3,218.1 L626.3,218.1Z" fill="#dceaf2"/>
<path d="M464.2,206.1 L473.2,206.1 L476.2,230.1 L464.2,236.1Z" fill="#dceaf2"/>
<path d="M494.2,266.2 L530.2,260.1 L542.2,278.2 L500.2,287.2Z" fill="#dceaf2"/>
<path d="M500.2,242.1 L530.2,245.1 L530.2,254.1 L500.2,254.1Z" fill="#dceaf2"/>
<path d="M320.1,260.0 L422.1,260.0 L422.1,293.0 L320.1,293.0Z" fill="#dceaf2"/>
<path d="M302.1,296.0 L416.1,293.0 L416.1,329.0 L374.1,350.1 L320.1,362.1 L302.1,338.1Z" fill="#dceaf2"/>
<path d="M356.1,392.1 L368.1,386.1 L371.1,410.1 L359.1,410.1Z" fill="#dceaf2"/>
<path d="M374.1,326.0 L422.1,329.0 L446.2,350.1 L425.1,374.1 L398.1,374.1 L374.1,362.1Z" fill="#dceaf2"/>
<path d="M386.1,386.1 L404.1,386.1 L404.1,404.1 L386.1,404.1Z" fill="#dceaf2"/>
<path d="M332.1,374.1 L350.1,368.1 L353.1,386.1 L335.1,389.1Z" fill="#dceaf2"/>
<path d="M422.1,278.0 L446.2,260.0 L458.2,305.0 L440.1,344.1 L422.1,338.1Z" fill="#dceaf2"/>
<path d="M476.2,290.0 L512.2,290.0 L512.2,308.0 L482.2,308.0Z" fill="#dceaf2"/>
<path d="M362.1,440.1 L374.1,440.1 L371.1,470.1 L362.1,464.1Z" fill="#dceaf2"/>
<path d="M242.0,260.0 L302.1,260.0 L320.1,284.0 L290.0,302.0 L248.0,290.0Z" fill="#dceaf2"/>
<path d="M314.1,104.0 L326.1,104.0 L329.1,119.0 L317.1,119.0Z" fill="#87beda"/>
<path d="M332.1,110.0 L350.1,110.0 L347.1,122.1 L335.1,122.1Z" fill="#87beda"/>
<path d="M389.1,164.1 L416.1,164.1 L410.1,182.1 L395.1,182.1Z" fill="#87beda"/>
<path d="M242.0,257.1 L275.0,254.1 L296.0,272.2 L302.1,290.2 L248.0,290.2Z" fill="#87beda"/>
<path d="M302.1,236.1 L326.1,242.1 L326.1,257.1 L308.1,257.1Z" fill="#87beda"/>
<path d="M326.1,266.2 L356.1,269.2 L356.1,290.2 L326.1,290.2Z" fill="#87beda"/>
<path d="M596.3,218.1 L617.3,218.1 L608.3,236.1 L596.3,236.1Z" fill="#87beda"/>
<path d="M596.3,260.1 L605.3,260.1 L605.3,284.2 L596.3,284.2Z" fill="#87beda"/>
<path d="M302.1,299.0 L368.1,293.0 L410.1,296.0 L416.1,326.0 L380.1,338.1 L356.1,332.1 L320.1,332.1 L302.1,326.0Z" fill="#87beda"/>
<path d="M380.1,329.0 L422.1,332.1 L440.1,350.1 L428.1,368.1 L398.1,356.1 L380.1,350.1Z" fill="#87beda"/>
<path d="M302.1,320.0 L320.1,338.1 L326.1,374.1 L344.1,410.1 L359.1,446.1 L365.1,476.2 L356.1,470.1 L338.1,428.1 L320.1,386.1 L305.1,350.1Z" fill="#87beda"/>
<path d="M242.0,260.0 L296.0,260.0 L302.1,284.0 L284.0,302.0 L254.0,290.0Z" fill="#87beda"/>
<path d="M326.1,272.0 L362.1,275.0 L356.1,290.0 L326.1,287.0Z" fill="#87beda"/>
<path d="M368.1,356.1 L386.1,359.1 L383.1,380.1 L368.1,380.1Z" fill="#87beda"/>
<path d="M416.1,305.0 L446.2,302.0 L440.1,344.1 L422.1,341.1Z" fill="#87beda"/>
<path d="M479.2,293.0 L506.2,290.0 L509.2,299.0 L482.2,302.0Z" fill="#87beda"/>
<path d="M371.1,173.1 L392.1,176.1 L395.1,191.1 L374.1,191.1Z" fill="#f09b7b"/>
<path d="M389.1,194.1 L407.1,197.1 L404.1,212.1 L389.1,212.1Z" fill="#f09b7b"/>
<path d="M422.1,203.1 L446.2,206.1 L446.2,221.1 L425.1,221.1Z" fill="#f09b7b"/>
<path d="M440.1,221.1 L467.2,227.1 L464.2,242.1 L440.1,239.1Z" fill="#f09b7b"/>
<path d="M350.1,236.1 L368.1,236.1 L365.1,254.1 L350.1,254.1Z" fill="#f09b7b"/>
<path d="M398.1,242.1 L422.1,245.1 L425.1,260.1 L401.1,260.1Z" fill="#f09b7b"/>
<path d="M416.1,254.1 L440.1,257.1 L440.1,269.2 L419.1,269.2Z" fill="#f09b7b"/>
<path d="M467.2,245.1 L500.2,245.1 L500.2,266.2 L470.2,266.2Z" fill="#f09b7b"/>
<path d="M560.2,212.1 L650.3,188.1 L668.3,194.1 L656.3,212.1 L605.3,218.1 L560.2,236.1Z" fill="#f09b7b"/>
<path d="M356.1,137.1 L368.1,149.1 L362.1,164.1 L353.1,155.1Z" fill="#f09b7b"/>
<path d="M440.1,266.0 L470.2,260.0 L470.2,284.0 L446.2,290.0Z" fill="#f09b7b"/>
<path d="M386.1,416.1 L410.1,416.1 L404.1,434.1 L386.1,434.1Z" fill="#f09b7b"/>
<path d="M395.1,167.1 L410.1,170.1 L410.1,182.1 L398.1,182.1Z" fill="#3079b6"/>
<path d="M254.0,266.2 L272.0,263.1 L284.0,284.2 L263.0,287.2Z" fill="#3079b6"/>
<path d="M377.1,152.1 L386.1,152.1 L386.1,161.1 L377.1,161.1Z" fill="#3079b6"/>
<path d="M350.1,296.0 L416.1,293.0 L422.1,332.1 L410.1,350.1 L386.1,338.1 L362.1,326.0Z" fill="#3079b6"/>
<path d="M308.1,332.1 L320.1,350.1 L329.1,386.1 L344.1,422.1 L359.1,452.1 L366.6,482.2 L359.1,482.2 L344.1,446.1 L326.1,410.1 L311.1,368.1Z" fill="#3079b6"/>
<path d="M254.0,266.0 L284.0,263.0 L290.0,293.0 L266.0,299.0Z" fill="#3079b6"/>
<path d="M389.1,323.0 L416.1,326.0 L422.1,347.1 L404.1,350.1Z" fill="#3079b6"/>
<path d="M374.1,356.1 L386.1,356.1 L386.1,374.1 L374.1,374.1Z" fill="#3079b6"/>
<path d="M286.7,330.0 L288.2,338.2 L290.1,346.4 L291.8,354.6 L293.4,362.8 L295.0,371.0 L297.4,379.2 L301.0,387.4 L305.9,395.6 L309.5,403.8 L311.7,412.0 L314.5,420.2 L317.6,428.4 L322.8,436.6 L328.2,444.8 L333.7,453.0 L336.0,461.2 L338.2,469.4 L341.2,477.6 L345.6,485.8 L351.0,494.0 L376.0,494.0 L370.7,485.8 L366.4,477.6 L363.5,469.4 L361.4,461.2 L359.2,453.0 L353.8,444.8 L348.5,436.6 L343.4,428.4 L340.4,420.2 L337.7,412.0 L335.6,403.8 L332.1,395.6 L327.3,387.4 L323.8,379.2 L321.5,371.0 L320.0,362.8 L318.5,354.6 L316.9,346.4 L315.1,338.2 L313.7,330.0Z" fill="#3079b6"/>
<path d="M470.2,212.1 L530.2,221.1 L530.2,242.1 L485.2,248.1 L467.2,236.1Z" fill="#c1373a"/>
<path d="M584.2,200.1 L608.3,194.1 L608.3,212.1 L587.3,212.1Z" fill="#c1373a"/>
<path d="M650.3,194.1 L668.3,194.1 L662.3,209.1 L650.3,209.1Z" fill="#c1373a"/>
<path d="M560.2,227.1 L596.3,227.1 L596.3,239.1 L560.2,239.1Z" fill="#c1373a"/>
<path d="M578.2,257.1 L593.3,254.1 L590.3,269.2 L581.2,269.2Z" fill="#c1373a"/>
<path d="M530.2,197.1 L542.2,197.1 L542.2,227.1 L554.2,221.1 L554.2,230.1 L530.2,230.1Z" fill="#c1373a"/>
<path d="M470.2,257.1 L482.2,257.1 L482.2,266.2 L470.2,266.2Z" fill="#c1373a"/>
<path d="M452.2,275.0 L461.2,275.0 L461.2,281.0 L452.2,281.0Z" fill="#c1373a"/>
<path d="M395.1,326.0 L416.1,329.0 L416.1,347.1 L401.1,344.1Z" fill="#053061"/>
<path d="M314.1,356.1 L323.1,368.1 L332.1,398.1 L347.1,428.1 L362.1,458.1 L366.6,482.2 L362.1,482.2 L344.1,446.1 L326.1,404.1Z" fill="#053061"/>
<path d="M401.1,296.0 L416.1,296.0 L416.1,320.0 L404.1,320.0Z" fill="#053061"/>
<path d="M289.8,345.0 L291.4,352.5 L292.9,359.9 L294.3,367.3 L295.8,374.8 L298.7,382.2 L302.4,389.7 L306.8,397.2 L309.7,404.6 L311.7,412.0 L314.2,419.5 L316.8,427.0 L321.4,434.4 L326.2,441.8 L331.2,449.3 L334.9,456.8 L336.8,464.2 L339.0,471.7 L341.8,479.1 L346.1,486.5 L351.0,494.0 L374.0,494.0 L369.2,486.5 L364.9,479.1 L362.2,471.7 L360.0,464.2 L358.1,456.8 L354.5,449.3 L349.6,441.8 L344.8,434.4 L340.3,427.0 L337.7,419.5 L335.3,412.0 L333.3,404.6 L330.5,397.2 L326.1,389.7 L322.4,382.2 L319.6,374.8 L318.2,367.3 L316.8,359.9 L315.3,352.5 L313.8,345.0Z" fill="#053061"/>
<path d="M479.2,218.1 L524.2,224.1 L530.2,233.1 L515.2,242.1 L485.2,239.1Z" fill="#67001f"/>
<path d="M533.2,212.1 L551.2,218.1 L551.2,227.1 L533.2,227.1Z" fill="#67001f"/>
<path d="M566.2,230.1 L590.3,230.1 L590.3,239.1 L566.2,237.6Z" fill="#67001f"/>
</g>
<use href="#borders"/><use href="#islands"/>
<ellipse cx="432.5" cy="227" rx="7" ry="10" fill="none" stroke="#555" stroke-width="1.4"/>
<rect x="110.0" y="17.0" width="599" height="479.0" fill="none" stroke="#3a3a3a" stroke-width="2"/>
<path d="M97.0,17.0H110.0 M97.0,91.8H110.0 M97.0,166.7H110.0 M97.0,241.5H110.0 M97.0,316.4H110.0 M97.0,391.2H110.0 M97.0,466.1H110.0 M110.0,496.0V509.0 M259.8,496.0V509.0 M409.5,496.0V509.0 M559.2,496.0V509.0 M709.0,496.0V509.0" stroke="#3a3a3a" stroke-width="2" fill="none"/>
<g font-size="32.5" fill="#383838"><text x="77.5" y="28.6" text-anchor="end">40°N</text><text x="77.5" y="103.4" text-anchor="end">35°N</text><text x="77.5" y="178.3" text-anchor="end">30°N</text><text x="77.5" y="253.1" text-anchor="end">25°N</text><text x="77.5" y="328.0" text-anchor="end">20°N</text><text x="77.5" y="402.8" text-anchor="end">15°N</text><text x="77.5" y="477.7" text-anchor="end">10°N</text><text x="110.0" y="556" text-anchor="middle">60°E</text><text x="259.8" y="556" text-anchor="middle">70°E</text><text x="409.5" y="556" text-anchor="middle">80°E</text><text x="559.2" y="556" text-anchor="middle">90°E</text><text x="709.0" y="556" text-anchor="middle">100°E</text></g>
<rect x="121.9" y="28.3" width="155.9" height="49.6" fill="#fff" stroke="#777" stroke-width="1.8"/>
<text x="130" y="60.2" font-size="27" letter-spacing="0.8" fill="#2a2a2a">(e) Phase5</text>
</g>
<g transform="translate(744.0,1124.0)">
<use href="#india" fill="#dceaf2"/>
<g clip-path="url(#clip)">
<path d="M299.0,68.0 L317.1,68.0 L314.1,80.0 L299.0,77.0Z" fill="#fbe3d5"/>
<path d="M362.1,104.0 L392.1,86.0 L398.1,92.0 L374.1,116.0Z" fill="#fbe3d5"/>
<path d="M257.0,200.1 L308.1,185.1 L338.1,188.1 L341.1,212.1 L314.1,218.1 L266.0,221.1Z" fill="#fbe3d5"/>
<path d="M338.1,170.1 L356.1,170.1 L359.1,185.1 L341.1,185.1Z" fill="#fbe3d5"/>
<path d="M386.1,182.1 L410.1,188.1 L416.1,218.1 L398.1,230.1 L386.1,212.1Z" fill="#fbe3d5"/>
<path d="M239.0,257.1 L266.0,257.1 L290.0,278.2 L254.0,284.2Z" fill="#fbe3d5"/>
<path d="M320.1,242.1 L332.1,236.1 L338.1,260.1 L320.1,260.1Z" fill="#fbe3d5"/>
<path d="M584.2,254.1 L608.3,254.1 L608.3,284.2 L590.3,278.2Z" fill="#fbe3d5"/>
<path d="M602.3,194.1 L620.3,191.1 L620.3,206.1 L605.3,206.1Z" fill="#fbe3d5"/>
<path d="M428.1,212.1 L446.2,212.1 L446.2,230.1 L428.1,230.1Z" fill="#fbe3d5"/>
<path d="M485.2,218.1 L524.2,221.1 L521.2,236.1 L488.2,233.1Z" fill="#fbe3d5"/>
<path d="M326.1,371.1 L368.1,350.1 L371.1,386.1 L362.1,410.1 L380.1,428.1 L356.1,440.1 L332.1,416.1Z" fill="#fbe3d5"/>
<path d="M374.1,320.0 L416.1,332.1 L440.1,350.1 L422.1,374.1 L410.1,386.1 L410.1,416.1 L386.1,422.1 L368.1,404.1 L374.1,362.1Z" fill="#fbe3d5"/>
<path d="M362.1,440.1 L386.1,428.1 L410.1,419.1 L407.1,452.1 L386.1,458.1 L371.1,458.1Z" fill="#fbe3d5"/>
<path d="M242.0,260.0 L290.0,260.0 L296.0,290.0 L266.0,302.0 L248.0,284.0Z" fill="#fbe3d5"/>
<path d="M314.1,326.0 L356.1,326.0 L368.1,344.1 L326.1,362.1 L311.1,350.1Z" fill="#fbe3d5"/>
<path d="M440.1,320.0 L494.2,296.0 L512.2,308.0 L470.2,338.1 L440.1,344.1Z" fill="#fbe3d5"/>
<path d="M308.1,74.0 L332.1,68.0 L326.1,110.0 L335.1,125.1 L317.1,125.1 L311.1,95.0Z" fill="#87beda"/>
<path d="M344.1,125.1 L371.1,125.1 L365.1,146.1 L344.1,146.1Z" fill="#87beda"/>
<path d="M326.1,137.1 L359.1,137.1 L362.1,167.1 L323.1,167.1Z" fill="#87beda"/>
<path d="M377.1,152.1 L422.1,164.1 L410.1,182.1 L380.1,176.1Z" fill="#87beda"/>
<path d="M368.1,170.1 L386.1,176.1 L398.1,230.1 L422.1,242.1 L470.2,230.1 L464.2,206.1 L422.1,194.1 L398.1,188.1Z" fill="#87beda"/>
<path d="M326.1,242.1 L458.2,236.1 L464.2,290.2 L326.1,290.2Z" fill="#87beda"/>
<path d="M458.2,206.1 L530.2,224.1 L530.2,290.2 L458.2,290.2Z" fill="#87beda"/>
<path d="M590.3,194.1 L656.3,176.1 L668.3,200.1 L644.3,206.1 L605.3,212.1 L584.2,212.1Z" fill="#87beda"/>
<path d="M554.2,218.1 L605.3,215.1 L620.3,236.1 L596.3,242.1 L557.2,236.1Z" fill="#87beda"/>
<path d="M266.0,254.1 L308.1,254.1 L320.1,278.2 L284.0,284.2Z" fill="#87beda"/>
<path d="M290.0,230.1 L329.1,224.1 L329.1,242.1 L296.0,242.1Z" fill="#87beda"/>
<path d="M320.1,260.0 L428.1,260.0 L422.1,293.0 L320.1,293.0Z" fill="#87beda"/>
<path d="M302.1,293.0 L416.1,293.0 L416.1,320.0 L380.1,326.0 L320.1,326.0Z" fill="#87beda"/>
<path d="M419.1,260.0 L512.2,260.0 L512.2,296.0 L470.2,314.0 L440.1,320.0 L422.1,314.0Z" fill="#87beda"/>
<path d="M305.1,326.0 L314.1,350.1 L326.1,386.1 L344.1,422.1 L359.1,452.1 L366.6,482.2 L359.1,482.2 L341.1,440.1 L320.1,392.1Z" fill="#87beda"/>
<path d="M290.0,266.0 L314.1,260.0 L320.1,296.0 L299.0,302.0Z" fill="#87beda"/>
<path d="M587.3,254.1 L608.3,248.1 L611.3,266.2 L596.3,272.2Z" fill="#f09b7b"/>
<path d="M548.2,215.1 L557.2,218.1 L554.2,227.1 L548.2,224.1Z" fill="#f09b7b"/>
<path d="M458.2,320.0 L494.2,302.0 L494.2,317.0 L464.2,335.1Z" fill="#f09b7b"/>
<path d="M440.1,344.1 L464.2,338.1 L458.2,353.1 L440.1,356.1Z" fill="#f09b7b"/>
<path d="M392.1,404.1 L410.1,404.1 L410.1,422.1 L392.1,422.1Z" fill="#f09b7b"/>
<path d="M332.1,344.1 L341.1,344.1 L341.1,356.1 L332.1,356.1Z" fill="#f09b7b"/>
<path d="M332.1,380.1 L341.1,380.1 L344.1,395.1 L335.1,395.1Z" fill="#f09b7b"/>
<path d="M392.1,422.1 L410.1,416.1 L410.1,428.1 L392.1,428.1Z" fill="#f09b7b"/>
<path d="M311.1,77.0 L326.1,74.0 L320.1,110.0 L329.1,122.1 L317.1,122.1 L314.1,98.0Z" fill="#3079b6"/>
<path d="M347.1,125.1 L359.1,125.1 L359.1,137.1 L347.1,137.1Z" fill="#3079b6"/>
<path d="M377.1,164.1 L389.1,167.1 L389.1,188.1 L380.1,188.1Z" fill="#3079b6"/>
<path d="M422.1,194.1 L464.2,206.1 L458.2,236.1 L434.1,230.1 L422.1,212.1Z" fill="#3079b6"/>
<path d="M368.1,242.1 L398.1,245.1 L398.1,272.2 L368.1,272.2Z" fill="#3079b6"/>
<path d="M470.2,230.1 L518.2,236.1 L524.2,260.1 L470.2,260.1Z" fill="#3079b6"/>
<path d="M635.3,182.1 L656.3,179.1 L665.3,200.1 L641.3,203.1Z" fill="#3079b6"/>
<path d="M560.2,227.1 L590.3,227.1 L590.3,242.1 L560.2,239.1Z" fill="#3079b6"/>
<path d="M269.0,254.1 L290.0,254.1 L290.0,266.2 L272.0,266.2Z" fill="#3079b6"/>
<path d="M440.1,260.1 L464.2,260.1 L464.2,290.2 L440.1,290.2Z" fill="#3079b6"/>
<path d="M434.1,260.0 L464.2,260.0 L458.2,290.0 L434.1,290.0Z" fill="#3079b6"/>
<path d="M302.1,293.0 L317.1,293.0 L317.1,320.0 L305.1,320.0Z" fill="#3079b6"/>
<path d="M347.1,434.1 L359.1,446.1 L366.6,482.2 L359.1,482.2 L348.6,452.1Z" fill="#3079b6"/>
<path d="M344.1,299.0 L362.1,299.0 L362.1,311.0 L344.1,311.0Z" fill="#3079b6"/>
<path d="M386.1,299.0 L410.1,299.0 L410.1,311.0 L386.1,311.0Z" fill="#3079b6"/>
<path d="M286.9,300.0 L286.9,302.0 L286.9,304.0 L286.9,306.0 L286.9,308.0 L286.9,310.0 L286.8,312.0 L286.8,314.0 L286.7,316.0 L286.6,318.0 L286.6,320.0 L286.5,322.0 L286.6,324.0 L286.6,326.0 L286.7,328.0 L286.7,330.0 L286.8,332.0 L287.1,334.0 L287.6,336.0 L288.1,338.0 L288.6,340.0 L313.6,340.0 L313.1,338.0 L312.6,336.0 L312.1,334.0 L311.8,332.0 L311.7,330.0 L311.7,328.0 L311.6,326.0 L311.6,324.0 L311.5,322.0 L311.6,320.0 L311.6,318.0 L311.7,316.0 L311.8,314.0 L311.8,312.0 L311.9,310.0 L311.9,308.0 L311.9,306.0 L311.9,304.0 L311.9,302.0 L311.9,300.0Z" fill="#3079b6"/>
<path d="M316.1,425.0 L317.6,428.5 L319.8,431.9 L322.0,435.3 L324.2,438.8 L326.5,442.2 L328.8,445.7 L331.1,449.2 L333.5,452.6 L334.7,456.0 L335.6,459.5 L336.5,463.0 L337.4,466.4 L338.4,469.8 L339.6,473.3 L340.9,476.8 L342.2,480.2 L344.2,483.7 L346.5,487.1 L348.8,490.5 L351.0,494.0 L375.0,494.0 L372.8,490.5 L370.5,487.1 L368.2,483.7 L366.2,480.2 L364.9,476.8 L363.6,473.3 L362.4,469.8 L361.4,466.4 L360.5,463.0 L359.6,459.5 L358.7,456.0 L357.5,452.6 L355.1,449.2 L352.8,445.7 L350.5,442.2 L348.2,438.8 L346.0,435.3 L343.8,431.9 L341.6,428.5 L340.1,425.0Z" fill="#3079b6"/>
<path d="M533.2,212.1 L551.2,212.1 L554.2,224.1 L533.2,221.1Z" fill="#c1373a"/>
<path d="M596.3,260.1 L605.3,260.1 L605.3,278.2 L596.3,278.2Z" fill="#c1373a"/>
<path d="M446.2,350.1 L452.2,350.1 L452.2,356.1 L446.2,356.1Z" fill="#c1373a"/>
<path d="M500.2,260.1 L536.2,248.1 L542.2,290.2 L503.2,290.2Z" fill="#053061"/>
<path d="M440.1,206.1 L458.2,212.1 L452.2,230.1 L440.1,224.1Z" fill="#053061"/>
<path d="M440.1,272.2 L458.2,272.2 L458.2,290.2 L440.1,290.2Z" fill="#053061"/>
<path d="M569.2,230.1 L587.3,230.1 L587.3,239.1 L569.2,239.1Z" fill="#053061"/>
<path d="M500.2,260.0 L542.2,260.0 L545.2,293.0 L518.2,290.0 L500.2,278.0Z" fill="#053061"/>
<path d="M305.1,296.0 L315.6,296.0 L315.6,314.0 L306.6,314.0Z" fill="#053061"/>
<path d="M440.1,272.0 L455.2,272.0 L455.2,287.0 L440.1,287.0Z" fill="#053061"/>
<path d="M286.9,298.0 L286.9,299.3 L286.9,300.7 L286.9,302.0 L286.9,303.4 L286.9,304.8 L286.9,306.1 L286.9,307.5 L286.9,308.8 L286.9,310.2 L286.8,311.5 L286.8,312.8 L286.8,314.2 L286.7,315.5 L286.7,316.9 L286.6,318.2 L286.6,319.6 L286.5,321.0 L286.5,322.3 L286.5,323.7 L286.6,325.0 L309.6,325.0 L309.5,323.7 L309.5,322.3 L309.5,321.0 L309.6,319.6 L309.6,318.2 L309.7,316.9 L309.7,315.5 L309.8,314.2 L309.8,312.8 L309.8,311.5 L309.9,310.2 L309.9,308.8 L309.9,307.5 L309.9,306.1 L309.9,304.8 L309.9,303.4 L309.9,302.0 L309.9,300.7 L309.9,299.3 L309.9,298.0Z" fill="#053061"/>
<path d="M328.4,445.0 L330.0,447.5 L331.6,449.9 L333.3,452.3 L334.4,454.8 L335.0,457.2 L335.7,459.7 L336.3,462.2 L336.9,464.6 L337.6,467.0 L338.2,469.5 L339.1,472.0 L340.0,474.4 L340.9,476.8 L341.8,479.3 L342.9,481.8 L344.6,484.2 L346.2,486.7 L347.8,489.1 L349.4,491.5 L351.0,494.0 L371.0,494.0 L369.4,491.5 L367.8,489.1 L366.2,486.7 L364.6,484.2 L362.9,481.8 L361.8,479.3 L360.9,476.8 L360.0,474.4 L359.1,472.0 L358.2,469.5 L357.6,467.0 L356.9,464.6 L356.3,462.2 L355.7,459.7 L355.0,457.2 L354.4,454.8 L353.3,452.3 L351.6,449.9 L350.0,447.5 L348.4,445.0Z" fill="#053061"/>
</g>
<use href="#borders"/><use href="#islands"/>
<rect x="110.0" y="17.0" width="599" height="479.0" fill="none" stroke="#3a3a3a" stroke-width="2"/>
<path d="M97.0,17.0H110.0 M97.0,91.8H110.0 M97.0,166.7H110.0 M97.0,241.5H110.0 M97.0,316.4H110.0 M97.0,391.2H110.0 M97.0,466.1H110.0 M110.0,496.0V509.0 M259.8,496.0V509.0 M409.5,496.0V509.0 M559.2,496.0V509.0 M709.0,496.0V509.0" stroke="#3a3a3a" stroke-width="2" fill="none"/>
<g font-size="32.5" fill="#383838"><text x="77.5" y="28.6" text-anchor="end">40°N</text><text x="77.5" y="103.4" text-anchor="end">35°N</text><text x="77.5" y="178.3" text-anchor="end">30°N</text><text x="77.5" y="253.1" text-anchor="end">25°N</text><text x="77.5" y="328.0" text-anchor="end">20°N</text><text x="77.5" y="402.8" text-anchor="end">15°N</text><text x="77.5" y="477.7" text-anchor="end">10°N</text><text x="110.0" y="556" text-anchor="middle">60°E</text><text x="259.8" y="556" text-anchor="middle">70°E</text><text x="409.5" y="556" text-anchor="middle">80°E</text><text x="559.2" y="556" text-anchor="middle">90°E</text><text x="709.0" y="556" text-anchor="middle">100°E</text></g>
<rect x="121.9" y="28.3" width="155.9" height="49.6" fill="#fff" stroke="#777" stroke-width="1.8"/>
<text x="130" y="60.2" font-size="27" letter-spacing="0.8" fill="#2a2a2a">(f) Phase6</text>
</g>
<g transform="translate(0.0,1686.0)">
<use href="#india" fill="#fbe3d5"/>
<g clip-path="url(#clip)">
<path d="M308.1,74.0 L338.1,62.0 L368.1,80.0 L413.1,83.0 L410.1,110.0 L392.1,119.0 L350.1,122.1 L317.1,122.1 L311.1,95.0Z" fill="#dceaf2"/>
<path d="M323.1,146.1 L356.1,146.1 L359.1,167.1 L323.1,167.1Z" fill="#dceaf2"/>
<path d="M254.0,200.1 L284.0,191.1 L308.1,182.1 L320.1,200.1 L320.1,236.1 L278.0,242.1 L257.0,230.1Z" fill="#dceaf2"/>
<path d="M314.1,176.1 L344.1,176.1 L368.1,194.1 L362.1,218.1 L332.1,218.1Z" fill="#dceaf2"/>
<path d="M368.1,170.1 L386.1,179.1 L392.1,194.1 L380.1,200.1Z" fill="#dceaf2"/>
<path d="M368.1,242.1 L422.1,248.1 L440.1,278.2 L410.1,287.2 L368.1,278.2Z" fill="#dceaf2"/>
<path d="M464.2,218.1 L530.2,224.1 L530.2,248.1 L470.2,248.1Z" fill="#dceaf2"/>
<path d="M440.1,254.1 L530.2,248.1 L542.2,290.2 L434.1,290.2Z" fill="#dceaf2"/>
<path d="M587.3,197.1 L614.3,191.1 L614.3,209.1 L590.3,212.1Z" fill="#dceaf2"/>
<path d="M602.3,242.1 L620.3,236.1 L629.3,254.1 L611.3,266.2Z" fill="#dceaf2"/>
<path d="M329.1,260.0 L434.1,260.0 L422.1,290.0 L356.1,293.0 L329.1,284.0Z" fill="#dceaf2"/>
<path d="M422.1,260.0 L542.2,260.0 L542.2,290.0 L512.2,308.0 L476.2,326.0 L446.2,320.0 L422.1,320.0Z" fill="#dceaf2"/>
<path d="M374.1,326.0 L398.1,332.1 L410.1,362.1 L386.1,374.1 L374.1,362.1Z" fill="#dceaf2"/>
<path d="M368.1,428.1 L410.1,422.1 L404.1,458.1 L380.1,482.2 L371.1,494.2Z" fill="#dceaf2"/>
<path d="M332.1,323.0 L362.1,320.0 L368.1,350.1 L338.1,353.1Z" fill="#dceaf2"/>
<path d="M314.1,80.0 L344.1,68.0 L371.1,92.0 L350.1,116.0 L326.1,122.1 L317.1,104.0Z" fill="#87beda"/>
<path d="M266.0,200.1 L302.1,188.1 L308.1,230.1 L284.0,242.1 L263.0,230.1Z" fill="#87beda"/>
<path d="M386.1,254.1 L410.1,254.1 L416.1,278.2 L392.1,278.2Z" fill="#87beda"/>
<path d="M476.2,230.1 L518.2,230.1 L524.2,248.1 L488.2,248.1Z" fill="#87beda"/>
<path d="M440.1,260.1 L515.2,257.1 L518.2,290.2 L440.1,290.2Z" fill="#87beda"/>
<path d="M584.2,218.1 L608.3,218.1 L605.3,230.1 L584.2,230.1Z" fill="#87beda"/>
<path d="M386.1,260.0 L422.1,260.0 L416.1,278.0 L386.1,278.0Z" fill="#87beda"/>
<path d="M428.1,266.0 L542.2,266.0 L542.2,287.0 L512.2,305.0 L458.2,320.0 L428.1,308.0Z" fill="#87beda"/>
<path d="M380.1,434.1 L398.1,434.1 L398.1,446.1 L380.1,446.1Z" fill="#87beda"/>
<path d="M374.1,182.1 L410.1,191.1 L452.2,206.1 L470.2,218.1 L458.2,236.1 L416.1,242.1 L392.1,230.1 L374.1,206.1Z" fill="#f09b7b"/>
<path d="M239.0,254.1 L290.0,248.1 L317.1,260.1 L320.1,290.2 L239.0,290.2Z" fill="#f09b7b"/>
<path d="M398.1,158.1 L416.1,164.1 L410.1,182.1 L398.1,176.1Z" fill="#f09b7b"/>
<path d="M614.3,188.1 L650.3,176.1 L662.3,191.1 L638.3,200.1 L614.3,206.1Z" fill="#f09b7b"/>
<path d="M560.2,218.1 L620.3,212.1 L617.3,236.1 L560.2,236.1Z" fill="#f09b7b"/>
<path d="M314.1,248.1 L332.1,248.1 L332.1,266.2 L317.1,266.2Z" fill="#f09b7b"/>
<path d="M578.2,248.1 L608.3,242.1 L614.3,272.2 L590.3,278.2Z" fill="#f09b7b"/>
<path d="M242.0,260.0 L320.1,260.0 L320.1,284.0 L290.0,308.0 L254.0,296.0Z" fill="#f09b7b"/>
<path d="M317.1,293.0 L386.1,296.0 L410.1,308.0 L398.1,320.0 L356.1,317.0 L329.1,329.0 L317.1,320.0Z" fill="#f09b7b"/>
<path d="M320.1,347.1 L338.1,350.1 L329.1,362.1 L317.1,356.1Z" fill="#f09b7b"/>
<path d="M362.1,374.1 L398.1,374.1 L416.1,386.1 L410.1,416.1 L386.1,422.1 L362.1,398.1Z" fill="#f09b7b"/>
<path d="M398.1,332.1 L422.1,338.1 L446.2,350.1 L428.1,362.1 L410.1,350.1Z" fill="#f09b7b"/>
<path d="M329.1,374.1 L362.1,359.1 L368.1,392.1 L356.1,416.1 L344.1,428.1 L332.1,410.1Z" fill="#f09b7b"/>
<path d="M320.1,374.1 L332.1,386.1 L350.1,428.1 L362.1,452.1 L368.1,482.2 L362.1,488.2 L344.1,446.1 L326.1,404.1Z" fill="#f09b7b"/>
<path d="M323.1,266.0 L344.1,263.0 L344.1,278.0 L326.1,278.0Z" fill="#f09b7b"/>
<path d="M338.1,83.0 L350.1,80.0 L356.1,104.0 L338.1,119.0 L323.1,119.0 L326.1,110.0 L344.1,104.0Z" fill="#3079b6"/>
<path d="M278.0,203.1 L299.0,194.1 L305.1,218.1 L290.0,230.1 L278.0,221.1Z" fill="#3079b6"/>
<path d="M470.2,239.1 L518.2,236.1 L524.2,248.1 L494.2,257.1 L470.2,254.1Z" fill="#3079b6"/>
<path d="M440.1,266.2 L476.2,260.1 L512.2,272.2 L515.2,290.2 L440.1,290.2Z" fill="#3079b6"/>
<path d="M434.1,269.0 L470.2,263.0 L518.2,278.0 L518.2,305.0 L464.2,317.0 L437.1,302.0Z" fill="#3079b6"/>
<path d="M422.1,200.1 L452.2,203.1 L458.2,230.1 L434.1,230.1Z" fill="#c1373a"/>
<path d="M620.3,182.1 L653.3,176.1 L656.3,191.1 L626.3,200.1Z" fill="#c1373a"/>
<path d="M248.0,266.2 L290.0,260.1 L308.1,284.2 L254.0,290.2Z" fill="#c1373a"/>
<path d="M557.2,224.1 L596.3,224.1 L596.3,239.1 L557.2,239.1Z" fill="#c1373a"/>
<path d="M584.2,248.1 L608.3,248.1 L608.3,272.2 L584.2,266.2Z" fill="#c1373a"/>
<path d="M533.2,218.1 L554.2,218.1 L554.2,227.1 L533.2,227.1Z" fill="#c1373a"/>
<path d="M407.1,161.1 L416.1,164.1 L413.1,176.1 L405.6,173.1Z" fill="#c1373a"/>
<path d="M248.0,278.0 L290.0,269.0 L296.0,296.0 L260.0,302.0Z" fill="#c1373a"/>
<path d="M302.1,296.0 L320.1,293.0 L326.1,320.0 L320.1,362.1 L308.1,359.1 L302.1,326.0Z" fill="#c1373a"/>
<path d="M386.1,296.0 L410.1,299.0 L422.1,332.1 L434.1,344.1 L422.1,350.1 L404.1,332.1 L392.1,320.0Z" fill="#c1373a"/>
<path d="M422.1,326.0 L446.2,326.0 L452.2,338.1 L428.1,344.1Z" fill="#c1373a"/>
<path d="M335.1,416.1 L344.1,422.1 L359.1,458.1 L365.1,482.2 L359.1,482.2 L347.1,452.1Z" fill="#c1373a"/>
<path d="M320.1,380.1 L332.1,386.1 L338.1,410.1 L329.1,404.1Z" fill="#c1373a"/>
<path d="M286.9,290.0 L286.9,293.5 L286.9,297.0 L286.9,300.5 L286.9,304.0 L286.9,307.5 L286.9,311.0 L286.8,314.5 L286.6,318.0 L286.5,321.5 L286.6,325.0 L286.7,328.5 L286.8,332.0 L287.5,335.5 L288.4,339.0 L289.3,342.5 L290.0,346.0 L290.8,349.5 L291.5,353.0 L292.2,356.5 L292.9,360.0 L315.9,360.0 L315.4,356.5 L314.9,353.0 L314.4,349.5 L313.8,346.0 L313.3,342.5 L312.6,339.0 L311.9,335.5 L311.4,332.0 L311.5,328.5 L311.6,325.0 L311.7,321.5 L312.0,318.0 L312.4,314.5 L312.7,311.0 L312.9,307.5 L313.1,304.0 L313.3,300.5 L313.5,297.0 L313.7,293.5 L313.9,290.0Z" fill="#c1373a"/>
<path d="M314.4,420.0 L315.7,423.7 L317.0,427.4 L319.3,431.1 L321.7,434.8 L324.1,438.5 L326.5,442.2 L329.0,445.9 L331.4,449.6 L333.9,453.3 L334.9,457.0 L335.9,460.7 L336.9,464.4 L337.9,468.1 L339.1,471.8 L340.4,475.5 L341.8,479.2 L343.7,482.9 L346.2,486.6 L348.6,490.3 L351.0,494.0 L373.0,494.0 L370.6,490.3 L368.2,486.6 L365.7,482.9 L363.8,479.2 L362.4,475.5 L361.1,471.8 L359.9,468.1 L358.9,464.4 L357.9,460.7 L356.9,457.0 L355.9,453.3 L353.4,449.6 L351.0,445.9 L348.5,442.2 L346.1,438.5 L343.7,434.8 L341.3,431.1 L339.0,427.4 L337.7,423.7 L336.4,420.0Z" fill="#c1373a"/>
<path d="M284.0,206.1 L296.0,203.1 L299.0,221.1 L287.0,224.1Z" fill="#053061"/>
<path d="M446.2,272.2 L476.2,266.2 L509.2,278.2 L512.2,290.2 L446.2,290.2Z" fill="#053061"/>
<path d="M530.2,278.2 L543.7,278.2 L543.7,290.2 L530.2,290.2Z" fill="#053061"/>
<path d="M482.2,245.1 L509.2,242.1 L512.2,251.1 L485.2,254.1Z" fill="#053061"/>
<path d="M440.1,272.0 L470.2,266.0 L476.2,284.0 L458.2,290.0 L446.2,287.0Z" fill="#053061"/>
<path d="M464.2,287.0 L512.2,284.0 L515.2,305.0 L470.2,311.0Z" fill="#053061"/>
<path d="M524.2,278.0 L545.2,275.0 L545.2,293.0 L527.2,290.0Z" fill="#053061"/>
<path d="M626.3,182.1 L650.3,179.1 L650.3,191.1 L629.3,194.1Z" fill="#67001f"/>
<path d="M560.2,227.1 L590.3,227.1 L590.3,237.6 L560.2,237.6Z" fill="#67001f"/>
<path d="M590.3,254.1 L605.3,254.1 L605.3,269.2 L590.3,269.2Z" fill="#67001f"/>
<path d="M431.1,206.1 L446.2,206.1 L446.2,224.1 L434.1,224.1Z" fill="#67001f"/>
<path d="M248.0,278.2 L272.0,272.2 L278.0,290.2 L248.0,290.2Z" fill="#67001f"/>
<path d="M254.0,284.0 L272.0,281.0 L278.0,299.0 L263.0,302.0Z" fill="#67001f"/>
<path d="M305.1,302.0 L317.1,299.0 L320.1,323.0 L308.1,326.0Z" fill="#67001f"/>
<path d="M286.9,295.0 L286.9,296.2 L286.9,297.5 L286.9,298.8 L286.9,300.0 L286.9,301.2 L286.9,302.5 L286.9,303.8 L286.9,305.0 L286.9,306.2 L286.9,307.5 L286.9,308.8 L286.9,310.0 L286.9,311.2 L286.8,312.5 L286.8,313.8 L286.7,315.0 L286.7,316.2 L286.6,317.5 L286.6,318.8 L286.6,320.0 L309.6,320.0 L309.6,318.8 L309.6,317.5 L309.7,316.2 L309.7,315.0 L309.8,313.8 L309.8,312.5 L309.9,311.2 L309.9,310.0 L309.9,308.8 L309.9,307.5 L309.9,306.2 L309.9,305.0 L309.9,303.8 L309.9,302.5 L309.9,301.2 L309.9,300.0 L309.9,298.8 L309.9,297.5 L309.9,296.2 L309.9,295.0Z" fill="#67001f"/>
</g>
<use href="#borders"/><use href="#islands"/>
<rect x="110.0" y="17.0" width="599" height="479.0" fill="none" stroke="#3a3a3a" stroke-width="2"/>
<path d="M97.0,17.0H110.0 M97.0,91.8H110.0 M97.0,166.7H110.0 M97.0,241.5H110.0 M97.0,316.4H110.0 M97.0,391.2H110.0 M97.0,466.1H110.0 M110.0,496.0V509.0 M259.8,496.0V509.0 M409.5,496.0V509.0 M559.2,496.0V509.0 M709.0,496.0V509.0" stroke="#3a3a3a" stroke-width="2" fill="none"/>
<g font-size="32.5" fill="#383838"><text x="77.5" y="28.6" text-anchor="end">40°N</text><text x="77.5" y="103.4" text-anchor="end">35°N</text><text x="77.5" y="178.3" text-anchor="end">30°N</text><text x="77.5" y="253.1" text-anchor="end">25°N</text><text x="77.5" y="328.0" text-anchor="end">20°N</text><text x="77.5" y="402.8" text-anchor="end">15°N</text><text x="77.5" y="477.7" text-anchor="end">10°N</text><text x="110.0" y="556" text-anchor="middle">60°E</text><text x="259.8" y="556" text-anchor="middle">70°E</text><text x="409.5" y="556" text-anchor="middle">80°E</text><text x="559.2" y="556" text-anchor="middle">90°E</text><text x="709.0" y="556" text-anchor="middle">100°E</text></g>
<rect x="121.9" y="28.3" width="155.9" height="49.6" fill="#fff" stroke="#777" stroke-width="1.8"/>
<text x="130" y="60.2" font-size="27" letter-spacing="0.8" fill="#2a2a2a">(g) Phase7</text>
</g>
<g transform="translate(744.0,1686.0)">
<use href="#india" fill="#dceaf2"/>
<g clip-path="url(#clip)">
<path d="M329.1,71.0 L368.1,83.0 L413.1,83.0 L410.1,107.0 L392.1,122.1 L335.1,119.0 L332.1,98.0Z" fill="#fbe3d5"/>
<path d="M260.0,218.1 L290.0,212.1 L314.1,230.1 L320.1,248.1 L278.0,248.1 L263.0,236.1Z" fill="#fbe3d5"/>
<path d="M239.0,254.1 L305.1,248.1 L320.1,278.2 L290.0,290.2 L239.0,287.2Z" fill="#fbe3d5"/>
<path d="M320.1,152.1 L338.1,146.1 L338.1,170.1 L320.1,167.1Z" fill="#fbe3d5"/>
<path d="M356.1,125.1 L380.1,122.1 L386.1,137.1 L368.1,137.1Z" fill="#fbe3d5"/>
<path d="M470.2,212.1 L530.2,221.1 L530.2,248.1 L485.2,248.1 L467.2,236.1Z" fill="#fbe3d5"/>
<path d="M422.1,200.1 L440.1,200.1 L446.2,218.1 L428.1,218.1Z" fill="#fbe3d5"/>
<path d="M560.2,218.1 L620.3,212.1 L626.3,236.1 L596.3,248.1 L560.2,236.1Z" fill="#fbe3d5"/>
<path d="M578.2,254.1 L611.3,242.1 L617.3,266.2 L602.3,287.2 L587.3,278.2Z" fill="#fbe3d5"/>
<path d="M332.1,242.1 L362.1,242.1 L359.1,266.2 L332.1,266.2Z" fill="#fbe3d5"/>
<path d="M500.2,260.1 L518.2,254.1 L524.2,278.2 L506.2,287.2Z" fill="#fbe3d5"/>
<path d="M242.0,260.0 L320.1,260.0 L320.1,290.0 L290.0,305.0 L248.0,290.0Z" fill="#fbe3d5"/>
<path d="M308.1,296.0 L332.1,293.0 L362.1,308.0 L386.1,296.0 L410.1,308.0 L386.1,323.0 L368.1,341.1 L332.1,362.1 L311.1,350.1Z" fill="#fbe3d5"/>
<path d="M374.1,320.0 L410.1,332.1 L440.1,353.1 L422.1,374.1 L410.1,386.1 L410.1,416.1 L386.1,422.1 L368.1,401.1 L374.1,368.1 L389.1,350.1Z" fill="#fbe3d5"/>
<path d="M326.1,371.1 L356.1,359.1 L368.1,386.1 L362.1,410.1 L374.1,428.1 L350.1,440.1 L332.1,416.1Z" fill="#fbe3d5"/>
<path d="M500.2,266.0 L542.2,266.0 L542.2,290.0 L518.2,290.0Z" fill="#fbe3d5"/>
<path d="M422.1,290.0 L440.1,290.0 L440.1,320.0 L422.1,320.0Z" fill="#fbe3d5"/>
<path d="M362.1,440.1 L374.1,434.1 L380.1,446.1 L365.1,452.1Z" fill="#fbe3d5"/>
<path d="M338.1,128.1 L362.1,122.1 L392.1,140.1 L422.1,164.1 L410.1,182.1 L374.1,182.1 L344.1,170.1 L332.1,146.1Z" fill="#87beda"/>
<path d="M314.1,182.1 L350.1,194.1 L368.1,218.1 L344.1,230.1 L320.1,206.1Z" fill="#87beda"/>
<path d="M278.0,200.1 L308.1,200.1 L314.1,218.1 L284.0,218.1Z" fill="#87beda"/>
<path d="M368.1,176.1 L398.1,188.1 L416.1,212.1 L398.1,230.1 L380.1,206.1Z" fill="#87beda"/>
<path d="M356.1,248.1 L422.1,242.1 L458.2,260.1 L470.2,290.2 L356.1,290.2Z" fill="#87beda"/>
<path d="M458.2,248.1 L530.2,230.1 L539.2,290.2 L458.2,290.2Z" fill="#87beda"/>
<path d="M584.2,200.1 L608.3,194.1 L611.3,206.1 L587.3,212.1Z" fill="#87beda"/>
<path d="M605.3,224.1 L629.3,224.1 L620.3,242.1 L605.3,239.1Z" fill="#87beda"/>
<path d="M356.1,260.0 L470.2,260.0 L476.2,290.0 L440.1,299.0 L410.1,290.0Z" fill="#87beda"/>
<path d="M326.1,299.0 L362.1,299.0 L356.1,332.1 L332.1,335.1Z" fill="#87beda"/>
<path d="M440.1,260.0 L500.2,260.0 L500.2,296.0 L470.2,314.0 L440.1,308.0Z" fill="#87beda"/>
<path d="M374.1,344.1 L398.1,350.1 L392.1,368.1 L374.1,368.1Z" fill="#87beda"/>
<path d="M392.1,440.1 L410.1,434.1 L404.1,470.1 L380.1,488.2 L374.1,482.2Z" fill="#87beda"/>
<path d="M452.2,296.0 L500.2,296.0 L500.2,326.0 L458.2,338.1Z" fill="#87beda"/>
<path d="M320.1,155.1 L332.1,155.1 L332.1,167.1 L320.1,167.1Z" fill="#f09b7b"/>
<path d="M476.2,218.1 L518.2,224.1 L512.2,242.1 L482.2,242.1Z" fill="#f09b7b"/>
<path d="M239.0,257.1 L263.0,257.1 L266.0,278.2 L242.0,278.2Z" fill="#f09b7b"/>
<path d="M605.3,194.1 L647.3,182.1 L650.3,206.1 L620.3,212.1Z" fill="#f09b7b"/>
<path d="M584.2,254.1 L602.3,248.1 L602.3,266.2 L587.3,266.2Z" fill="#f09b7b"/>
<path d="M242.0,278.0 L272.0,272.0 L278.0,296.0 L254.0,299.0Z" fill="#f09b7b"/>
<path d="M302.1,308.0 L326.1,308.0 L332.1,362.1 L317.1,368.1 L305.1,344.1Z" fill="#f09b7b"/>
<path d="M320.1,380.1 L338.1,386.1 L350.1,422.1 L362.1,440.1 L356.1,446.1 L338.1,422.1Z" fill="#f09b7b"/>
<path d="M422.1,350.1 L440.1,353.1 L434.1,368.1 L422.1,365.1Z" fill="#f09b7b"/>
<path d="M344.1,134.1 L362.1,131.1 L398.1,152.1 L416.1,164.1 L404.1,176.1 L374.1,176.1 L350.1,164.1Z" fill="#3079b6"/>
<path d="M320.1,185.1 L344.1,197.1 L350.1,212.1 L329.1,209.1Z" fill="#3079b6"/>
<path d="M398.1,242.1 L422.1,248.1 L422.1,266.2 L398.1,266.2Z" fill="#3079b6"/>
<path d="M440.1,260.1 L464.2,266.2 L470.2,290.2 L440.1,290.2Z" fill="#3079b6"/>
<path d="M494.2,254.1 L530.2,236.1 L536.2,266.2 L500.2,272.2Z" fill="#3079b6"/>
<path d="M608.3,227.1 L623.3,230.1 L617.3,239.1 L608.3,236.1Z" fill="#3079b6"/>
<path d="M530.2,212.1 L551.2,215.1 L548.2,227.1 L530.2,224.1Z" fill="#3079b6"/>
<path d="M446.2,266.0 L476.2,266.0 L482.2,290.0 L458.2,296.0Z" fill="#3079b6"/>
<path d="M398.1,272.0 L422.1,272.0 L422.1,290.0 L398.1,290.0Z" fill="#3079b6"/>
<path d="M326.1,317.0 L338.1,317.0 L338.1,329.0 L326.1,329.0Z" fill="#3079b6"/>
<path d="M614.3,185.1 L650.3,176.1 L662.3,194.1 L656.3,206.1 L620.3,200.1Z" fill="#c1373a"/>
<path d="M560.2,224.1 L596.3,224.1 L596.3,239.1 L560.2,239.1Z" fill="#c1373a"/>
<path d="M557.2,218.1 L569.2,218.1 L569.2,227.1 L557.2,227.1Z" fill="#c1373a"/>
<path d="M488.2,218.1 L500.2,218.1 L500.2,230.1 L488.2,230.1Z" fill="#c1373a"/>
<path d="M527.2,278.2 L542.2,272.2 L543.7,287.2 L527.2,287.2Z" fill="#c1373a"/>
<path d="M305.1,314.0 L320.1,314.0 L320.1,338.1 L329.1,371.1 L320.1,380.1 L311.1,356.1Z" fill="#c1373a"/>
<path d="M326.1,392.1 L338.1,398.1 L347.1,428.1 L338.1,428.1Z" fill="#c1373a"/>
<path d="M344.1,440.1 L356.1,440.1 L365.1,470.1 L368.1,491.2 L359.1,488.2Z" fill="#c1373a"/>
<path d="M248.0,284.0 L266.0,278.0 L269.0,296.0 L254.0,299.0Z" fill="#c1373a"/>
<path d="M286.9,296.0 L286.9,301.5 L286.9,306.9 L286.8,312.3 L286.6,317.8 L286.5,323.2 L286.7,328.7 L287.2,334.2 L288.5,339.6 L289.8,345.0 L291.0,350.5 L292.1,356.0 L293.2,361.4 L294.2,366.8 L295.3,372.3 L296.9,377.8 L299.1,383.2 L301.8,388.7 L305.0,394.1 L308.2,399.6 L309.8,405.0 L333.8,405.0 L332.3,399.6 L329.3,394.1 L326.2,388.7 L323.7,383.2 L321.6,377.8 L320.2,372.3 L319.3,366.8 L318.4,361.4 L317.4,356.0 L316.5,350.5 L315.5,345.0 L314.3,339.6 L313.1,334.2 L312.8,328.7 L312.8,323.2 L313.0,317.8 L313.4,312.3 L313.6,306.9 L313.8,301.5 L313.9,296.0Z" fill="#c1373a"/>
<path d="M317.3,428.0 L319.4,431.3 L321.6,434.6 L323.7,437.9 L325.8,441.2 L328.0,444.5 L330.2,447.8 L332.5,451.1 L334.3,454.4 L335.1,457.7 L336.0,461.0 L336.9,464.3 L337.7,467.6 L338.8,470.9 L340.0,474.2 L341.2,477.5 L342.4,480.8 L344.5,484.1 L346.7,487.4 L348.9,490.7 L351.0,494.0 L375.0,494.0 L372.9,490.7 L370.7,487.4 L368.5,484.1 L366.4,480.8 L365.2,477.5 L364.0,474.2 L362.8,470.9 L361.7,467.6 L360.9,464.3 L360.0,461.0 L359.1,457.7 L358.3,454.4 L356.5,451.1 L354.2,447.8 L352.0,444.5 L349.8,441.2 L347.7,437.9 L345.6,434.6 L343.4,431.3 L341.3,428.0Z" fill="#c1373a"/>
<path d="M350.1,140.1 L362.1,140.1 L365.1,158.1 L353.1,158.1Z" fill="#053061"/>
<path d="M374.1,155.1 L386.1,155.1 L386.1,170.1 L374.1,170.1Z" fill="#053061"/>
<path d="M449.2,272.2 L467.2,272.2 L470.2,290.2 L452.2,290.2Z" fill="#053061"/>
<path d="M524.2,266.2 L536.2,260.1 L539.2,287.2 L527.2,287.2Z" fill="#053061"/>
<path d="M458.2,278.0 L482.2,278.0 L482.2,293.0 L464.2,293.0Z" fill="#053061"/>
<path d="M527.2,275.0 L545.2,272.0 L545.2,293.0 L528.7,291.5Z" fill="#053061"/>
<path d="M620.3,182.1 L650.3,176.1 L662.3,191.1 L653.3,200.1 L626.3,194.1Z" fill="#67001f"/>
<path d="M560.2,227.1 L590.3,228.6 L590.3,239.1 L560.2,239.1Z" fill="#67001f"/>
<path d="M311.1,350.1 L323.1,356.1 L326.1,380.1 L317.1,380.1Z" fill="#67001f"/>
<path d="M350.1,452.1 L359.1,455.1 L366.6,482.2 L362.1,485.2Z" fill="#67001f"/>
<path d="M530.2,278.0 L545.2,276.5 L545.2,293.0 L530.2,290.0Z" fill="#67001f"/>
<path d="M288.6,340.0 L289.2,342.2 L289.7,344.5 L290.2,346.8 L290.7,349.0 L291.1,351.2 L291.6,353.5 L292.0,355.8 L292.5,358.0 L292.9,360.2 L293.4,362.5 L293.8,364.8 L294.3,367.0 L294.7,369.2 L295.1,371.5 L295.6,373.8 L296.1,376.0 L297.1,378.2 L298.0,380.5 L298.9,382.8 L299.8,385.0 L322.8,385.0 L321.9,382.8 L321.0,380.5 L320.1,378.2 L319.1,376.0 L318.6,373.8 L318.1,371.5 L317.7,369.2 L317.3,367.0 L316.8,364.8 L316.4,362.5 L315.9,360.2 L315.5,358.0 L315.0,355.8 L314.6,353.5 L314.1,351.2 L313.7,349.0 L313.2,346.8 L312.7,344.5 L312.2,342.2 L311.6,340.0Z" fill="#67001f"/>
<path d="M325.0,440.0 L326.8,442.7 L328.6,445.4 L330.4,448.1 L332.3,450.8 L334.0,453.5 L334.7,456.2 L335.4,458.9 L336.2,461.6 L336.9,464.3 L337.6,467.0 L338.3,469.7 L339.3,472.4 L340.3,475.1 L341.3,477.8 L342.3,480.5 L343.9,483.2 L345.7,485.9 L347.5,488.6 L349.3,491.3 L351.0,494.0 L372.0,494.0 L370.3,491.3 L368.5,488.6 L366.7,485.9 L364.9,483.2 L363.3,480.5 L362.3,477.8 L361.3,475.1 L360.3,472.4 L359.3,469.7 L358.6,467.0 L357.9,464.3 L357.2,461.6 L356.4,458.9 L355.7,456.2 L355.0,453.5 L353.3,450.8 L351.4,448.1 L349.6,445.4 L347.8,442.7 L346.0,440.0Z" fill="#67001f"/>
</g>
<use href="#borders"/><use href="#islands"/>
<rect x="110.0" y="17.0" width="599" height="479.0" fill="none" stroke="#3a3a3a" stroke-width="2"/>
<path d="M97.0,17.0H110.0 M97.0,91.8H110.0 M97.0,166.7H110.0 M97.0,241.5H110.0 M97.0,316.4H110.0 M97.0,391.2H110.0 M97.0,466.1H110.0 M110.0,496.0V509.0 M259.8,496.0V509.0 M409.5,496.0V509.0 M559.2,496.0V509.0 M709.0,496.0V509.0" stroke="#3a3a3a" stroke-width="2" fill="none"/>
<g font-size="32.5" fill="#383838"><text x="77.5" y="28.6" text-anchor="end">40°N</text><text x="77.5" y="103.4" text-anchor="end">35°N</text><text x="77.5" y="178.3" text-anchor="end">30°N</text><text x="77.5" y="253.1" text-anchor="end">25°N</text><text x="77.5" y="328.0" text-anchor="end">20°N</text><text x="77.5" y="402.8" text-anchor="end">15°N</text><text x="77.5" y="477.7" text-anchor="end">10°N</text><text x="110.0" y="556" text-anchor="middle">60°E</text><text x="259.8" y="556" text-anchor="middle">70°E</text><text x="409.5" y="556" text-anchor="middle">80°E</text><text x="559.2" y="556" text-anchor="middle">90°E</text><text x="709.0" y="556" text-anchor="middle">100°E</text></g>
<rect x="121.9" y="28.3" width="155.9" height="49.6" fill="#fff" stroke="#777" stroke-width="1.8"/>
<text x="130" y="60.2" font-size="27" letter-spacing="0.8" fill="#2a2a2a">(h) Phase8</text>
</g>
<rect x="31.00" y="2303.3" width="179.60" height="77.7" fill="#67001f"/>
<rect x="210.60" y="2303.3" width="179.60" height="77.7" fill="#c1373a"/>
<rect x="390.20" y="2303.3" width="179.60" height="77.7" fill="#f09b7b"/>
<rect x="569.80" y="2303.3" width="179.60" height="77.7" fill="#fbe3d5"/>
<rect x="749.40" y="2303.3" width="179.60" height="77.7" fill="#dceaf2"/>
<rect x="929.00" y="2303.3" width="179.60" height="77.7" fill="#87beda"/>
<rect x="1108.60" y="2303.3" width="179.60" height="77.7" fill="#3079b6"/>
<rect x="1288.20" y="2303.3" width="179.60" height="77.7" fill="#08295e"/>
<rect x="31.0" y="2303.3" width="1436.8" height="77.7" fill="none" stroke="#1a1a1a" stroke-width="1.7"/>
<line x1="210.60" y1="2303.3" x2="210.60" y2="2381.0" stroke="#1a1a1a" stroke-width="1.2"/>
<line x1="390.20" y1="2303.3" x2="390.20" y2="2381.0" stroke="#1a1a1a" stroke-width="1.2"/>
<line x1="569.80" y1="2303.3" x2="569.80" y2="2381.0" stroke="#1a1a1a" stroke-width="1.2"/>
<line x1="749.40" y1="2303.3" x2="749.40" y2="2381.0" stroke="#1a1a1a" stroke-width="1.2"/>
<line x1="929.00" y1="2303.3" x2="929.00" y2="2381.0" stroke="#1a1a1a" stroke-width="1.2"/>
<line x1="1108.60" y1="2303.3" x2="1108.60" y2="2381.0" stroke="#1a1a1a" stroke-width="1.2"/>
<line x1="1288.20" y1="2303.3" x2="1288.20" y2="2381.0" stroke="#1a1a1a" stroke-width="1.2"/>
<text x="210.6" y="2458" font-size="74" text-anchor="middle" fill="#1c1c1c">-3</text>
<text x="390.2" y="2458" font-size="74" text-anchor="middle" fill="#1c1c1c">-2</text>
<text x="569.8" y="2458" font-size="74" text-anchor="middle" fill="#1c1c1c">-1</text>
<text x="749.4" y="2458" font-size="74" text-anchor="middle" fill="#1c1c1c">0</text>
<text x="929.0" y="2458" font-size="74" text-anchor="middle" fill="#1c1c1c">1</text>
<text x="1108.6" y="2458" font-size="74" text-anchor="middle" fill="#1c1c1c">2</text>
<text x="1288.2" y="2458" font-size="74" text-anchor="middle" fill="#1c1c1c">3</text>
</svg></body></html>
